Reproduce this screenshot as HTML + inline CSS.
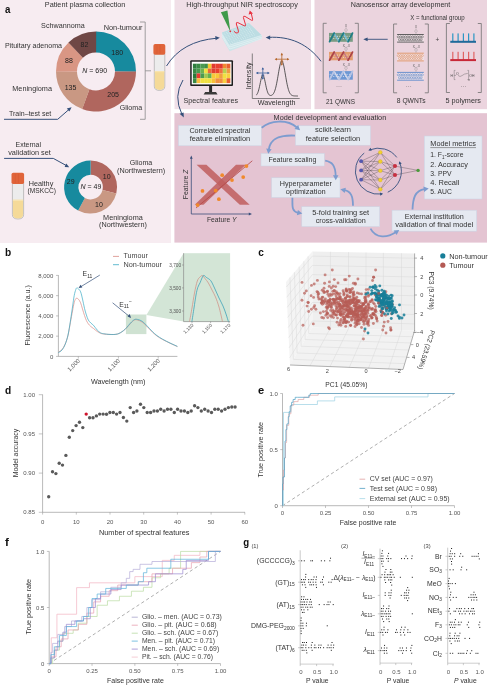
<!DOCTYPE html>
<html><head><meta charset="utf-8"><title>Figure</title>
<style>html,body{margin:0;padding:0;background:#fff;} svg{display:block;} text{font-family:"Liberation Sans", "DejaVu Sans", sans-serif;}</style>
</head><body>
<svg width="488" height="685" viewBox="0 0 488 685">
<rect width="488" height="685" fill="#fff"/>
<rect x="0" y="0" width="171" height="243" fill="#f7ecf1"/>
<rect x="174.5" y="0" width="136.5" height="109.2" fill="#f0dfe7"/>
<rect x="314.5" y="0" width="172.5" height="109.2" fill="#ebd4de"/>
<rect x="174.4" y="113.2" width="312.6" height="129.4" fill="#e4c4d2"/>
<text x="4.9" y="13.1" font-size="10.2" fill="#111" text-anchor="start" font-weight="bold" textLength="5.4" lengthAdjust="spacingAndGlyphs">a</text>
<text x="44.8" y="7.4" font-size="7" fill="#333" text-anchor="start" textLength="80.6" lengthAdjust="spacingAndGlyphs">Patient plasma collection</text>
<path d="M96.00,31.50 A40,40 0 0 1 136.00,71.71 L115.00,71.60 A19,19 0 0 0 96.00,52.50 Z" fill="#178a9e"/>
<path d="M136.00,71.50 A40,40 0 0 1 82.12,109.02 L89.41,89.32 A19,19 0 0 0 115.00,71.50 Z" fill="#b0665e"/>
<path d="M82.32,109.09 A40,40 0 0 1 56.00,71.29 L77.00,71.40 A19,19 0 0 0 89.50,89.35 Z" fill="#c99883"/>
<path d="M56.00,71.50 A40,40 0 0 1 68.57,42.39 L82.97,57.67 A19,19 0 0 0 77.00,71.50 Z" fill="#d99684"/>
<path d="M68.42,42.53 A40,40 0 0 1 96.21,31.50 L96.10,52.50 A19,19 0 0 0 82.90,57.74 Z" fill="#6f4745"/>
<text x="84.4" y="46.6" font-size="7" fill="#222" text-anchor="middle">82</text>
<text x="117.2" y="55" font-size="7" fill="#222" text-anchor="middle">180</text>
<text x="68.9" y="62.6" font-size="7" fill="#222" text-anchor="middle">88</text>
<text x="70.5" y="89.8" font-size="7" fill="#222" text-anchor="middle">135</text>
<text x="113.1" y="96.8" font-size="7" fill="#222" text-anchor="middle">205</text>
<text x="94.7" y="72.8" font-size="7" fill="#222" text-anchor="middle"><tspan font-style="italic">N</tspan> = 690</text>
<text x="41.1" y="27.9" font-size="7" fill="#333" text-anchor="start" textLength="43.6" lengthAdjust="spacingAndGlyphs">Schwannoma</text>
<text x="103.7" y="30.2" font-size="7" fill="#333" text-anchor="start" textLength="38.9" lengthAdjust="spacingAndGlyphs">Non-tumour</text>
<text x="4.9" y="47.5" font-size="7" fill="#333" text-anchor="start" textLength="57.1" lengthAdjust="spacingAndGlyphs">Pituitary adenoma</text>
<text x="12.3" y="91.1" font-size="7" fill="#333" text-anchor="start" textLength="39.7" lengthAdjust="spacingAndGlyphs">Meningioma</text>
<text x="119.7" y="110.2" font-size="7" fill="#333" text-anchor="start" textLength="22.5" lengthAdjust="spacingAndGlyphs">Glioma</text>
<text x="9" y="115.7" font-size="7" fill="#333" text-anchor="start" textLength="42.3" lengthAdjust="spacingAndGlyphs">Train–test set</text>
<path d="M4,119.3 L57.7,119.3 L69.5,109" fill="none" stroke="#35507a" stroke-width="1.0"/>
<path d="M71.6,107.2 L66.8,108.6 L69.4,111.4 Z" fill="#35507a"/>
<path d="M140,22 L145.2,22 L145.2,119.3 L140,119.3 M145.2,70.8 L151,70.8" fill="none" stroke="#8c8c8c" stroke-width="0.8"/>
<path d="M154.3,53.7 L154.3,86.2 Q154.3,90.4 159.55,90.4 Q164.8,90.4 164.8,86.2 L164.8,53.7 Z" fill="#ececec" stroke="#aaaaaa" stroke-width="0.7"/>
<path d="M154.8,71 L154.8,86.10000000000001 Q154.8,89.9 159.55,89.9 Q164.3,89.9 164.3,86.10000000000001 L164.3,71 Z" fill="#f5da98"/>
<rect x="154.8" y="71" width="9.5" height="1.2" fill="#f8e4b0"/>
<rect x="153.4" y="44" width="11.900000000000006" height="10.700000000000003" rx="1.8" fill="#e0643a"/>
<path d="M156.97,45 L156.97,53.7 M159.94500000000002,45 L159.94500000000002,53.7" stroke="#d65a32" stroke-width="0.6"/>
<text x="15.6" y="147.4" font-size="7" fill="#333" text-anchor="start" textLength="25.4" lengthAdjust="spacingAndGlyphs">External</text>
<text x="8.2" y="155.1" font-size="7" fill="#333" text-anchor="start" textLength="42.6" lengthAdjust="spacingAndGlyphs">validation set</text>
<path d="M4.1,158.4 L53.3,158.4 L66.8,165.8" fill="none" stroke="#35507a" stroke-width="1.0"/>
<path d="M69.2,167.2 L64.6,166.9 L66.3,163.6 Z" fill="#35507a"/>
<path d="M12.4,183 L12.4,214.52 Q12.4,219 18.0,219 Q23.6,219 23.6,214.52 L23.6,183 Z" fill="#ececec" stroke="#aaaaaa" stroke-width="0.7"/>
<path d="M12.9,199.8 L12.9,214.42 Q12.9,218.5 18.0,218.5 Q23.1,218.5 23.1,214.42 L23.1,199.8 Z" fill="#f5da98"/>
<rect x="12.9" y="199.8" width="10.200000000000001" height="1.2" fill="#f8e4b0"/>
<rect x="11.5" y="172.8" width="12.600000000000001" height="11.199999999999989" rx="1.8" fill="#e0643a"/>
<path d="M15.280000000000001,173.8 L15.280000000000001,183 M18.43,173.8 L18.43,183" stroke="#d65a32" stroke-width="0.6"/>
<text x="28.7" y="185.6" font-size="7" fill="#333" text-anchor="start" textLength="24.6" lengthAdjust="spacingAndGlyphs">Healthy</text>
<text x="27.5" y="193.3" font-size="7" fill="#333" text-anchor="start" textLength="28.5" lengthAdjust="spacingAndGlyphs">(MSKCC)</text>
<path d="M90.60,160.60 A26.5,26.5 0 0 1 116.31,193.51 L102.53,190.08 A12.3,12.3 0 0 0 90.60,174.80 Z" fill="#b0665e"/>
<path d="M116.31,193.51 A26.5,26.5 0 0 1 78.16,210.50 L84.83,197.96 A12.3,12.3 0 0 0 102.53,190.08 Z" fill="#c99883"/>
<path d="M78.16,210.50 A26.5,26.5 0 0 1 90.60,160.60 L90.60,174.80 A12.3,12.3 0 0 0 84.83,197.96 Z" fill="#178a9e"/>
<text x="70.7" y="184.3" font-size="7" fill="#222" text-anchor="middle">29</text>
<text x="106.7" y="178.9" font-size="7" fill="#222" text-anchor="middle">10</text>
<text x="98.9" y="207.2" font-size="7" fill="#222" text-anchor="middle">10</text>
<text x="90.9" y="189.2" font-size="7" fill="#222" text-anchor="middle"><tspan font-style="italic">N</tspan> = 49</text>
<text x="129.8" y="164.8" font-size="7" fill="#333" text-anchor="start" textLength="22.5" lengthAdjust="spacingAndGlyphs">Glioma</text>
<text x="117" y="172.7" font-size="7" fill="#333" text-anchor="start" textLength="48.1" lengthAdjust="spacingAndGlyphs">(Northwestern)</text>
<text x="103.1" y="219.8" font-size="7" fill="#333" text-anchor="start" textLength="39.7" lengthAdjust="spacingAndGlyphs">Meningioma</text>
<text x="99" y="227.1" font-size="7" fill="#333" text-anchor="start" textLength="48" lengthAdjust="spacingAndGlyphs">(Northwestern)</text>
<text x="186.3" y="7.4" font-size="7" fill="#333" text-anchor="start" textLength="111.5" lengthAdjust="spacingAndGlyphs">High-throughput NIR spectroscopy</text>
<path d="M166.5,66 Q182,41 217,38.2" fill="none" stroke="#35507a" stroke-width="1.0"/>
<path d="M219.8,37.8 L215.2,35.9 L215.6,40.3 Z" fill="#35507a"/>
<path d="M321,61.3 C308,44 290,36 268.5,37.4" fill="none" stroke="#35507a" stroke-width="1.0"/>
<path d="M265.7,37.5 L270.2,35.4 L270.2,39.8 Z" fill="#35507a"/>
<path d="M183,80 Q173,96 182,114.5" fill="none" stroke="#35507a" stroke-width="1.0"/>
<path d="M183.8,117.4 L179.6,113.8 L183.6,112.6 Z" fill="#35507a"/>
<path d="M222,32.6 L248.8,23 L261.8,35.4 L261.8,38.8 L229.7,51.2 L222,38 Z" fill="#cde6ea"/>
<path d="M222,32.6 L248.8,23 L261.8,35.4 L229.7,45 Z" fill="#bcdde3"/>
<g fill="#e6f3f5"><circle cx="224.15" cy="33.09" r="0.42"/><circle cx="225.07" cy="34.57" r="0.42"/><circle cx="225.99" cy="36.04" r="0.42"/><circle cx="226.90" cy="37.52" r="0.42"/><circle cx="227.82" cy="39.00" r="0.42"/><circle cx="228.74" cy="40.47" r="0.42"/><circle cx="229.65" cy="41.95" r="0.42"/><circle cx="230.57" cy="43.42" r="0.42"/><circle cx="226.32" cy="32.32" r="0.42"/><circle cx="227.23" cy="33.79" r="0.42"/><circle cx="228.15" cy="35.27" r="0.42"/><circle cx="229.07" cy="36.75" r="0.42"/><circle cx="229.98" cy="38.22" r="0.42"/><circle cx="230.90" cy="39.70" r="0.42"/><circle cx="231.82" cy="41.17" r="0.42"/><circle cx="232.73" cy="42.65" r="0.42"/><circle cx="228.48" cy="31.54" r="0.42"/><circle cx="229.39" cy="33.02" r="0.42"/><circle cx="230.31" cy="34.50" r="0.42"/><circle cx="231.23" cy="35.97" r="0.42"/><circle cx="232.14" cy="37.45" r="0.42"/><circle cx="233.06" cy="38.92" r="0.42"/><circle cx="233.98" cy="40.40" r="0.42"/><circle cx="234.89" cy="41.88" r="0.42"/><circle cx="230.64" cy="30.77" r="0.42"/><circle cx="231.56" cy="32.25" r="0.42"/><circle cx="232.47" cy="33.72" r="0.42"/><circle cx="233.39" cy="35.20" r="0.42"/><circle cx="234.31" cy="36.67" r="0.42"/><circle cx="235.22" cy="38.15" r="0.42"/><circle cx="236.14" cy="39.63" r="0.42"/><circle cx="237.06" cy="41.10" r="0.42"/><circle cx="232.80" cy="29.99" r="0.42"/><circle cx="233.72" cy="31.47" r="0.42"/><circle cx="234.63" cy="32.95" r="0.42"/><circle cx="235.55" cy="34.42" r="0.42"/><circle cx="236.47" cy="35.90" r="0.42"/><circle cx="237.38" cy="37.38" r="0.42"/><circle cx="238.30" cy="38.85" r="0.42"/><circle cx="239.22" cy="40.33" r="0.42"/><circle cx="234.96" cy="29.22" r="0.42"/><circle cx="235.88" cy="30.70" r="0.42"/><circle cx="236.79" cy="32.17" r="0.42"/><circle cx="237.71" cy="33.65" r="0.42"/><circle cx="238.63" cy="35.13" r="0.42"/><circle cx="239.54" cy="36.60" r="0.42"/><circle cx="240.46" cy="38.08" r="0.42"/><circle cx="241.38" cy="39.55" r="0.42"/><circle cx="237.12" cy="28.45" r="0.42"/><circle cx="238.04" cy="29.92" r="0.42"/><circle cx="238.96" cy="31.40" r="0.42"/><circle cx="239.87" cy="32.87" r="0.42"/><circle cx="240.79" cy="34.35" r="0.42"/><circle cx="241.71" cy="35.83" r="0.42"/><circle cx="242.62" cy="37.30" r="0.42"/><circle cx="243.54" cy="38.78" r="0.42"/><circle cx="239.28" cy="27.67" r="0.42"/><circle cx="240.20" cy="29.15" r="0.42"/><circle cx="241.12" cy="30.62" r="0.42"/><circle cx="242.03" cy="32.10" r="0.42"/><circle cx="242.95" cy="33.58" r="0.42"/><circle cx="243.87" cy="35.05" r="0.42"/><circle cx="244.78" cy="36.53" r="0.42"/><circle cx="245.70" cy="38.01" r="0.42"/><circle cx="241.44" cy="26.90" r="0.42"/><circle cx="242.36" cy="28.37" r="0.42"/><circle cx="243.28" cy="29.85" r="0.42"/><circle cx="244.19" cy="31.33" r="0.42"/><circle cx="245.11" cy="32.80" r="0.42"/><circle cx="246.03" cy="34.28" r="0.42"/><circle cx="246.94" cy="35.75" r="0.42"/><circle cx="247.86" cy="37.23" r="0.42"/><circle cx="243.61" cy="26.12" r="0.42"/><circle cx="244.52" cy="27.60" r="0.42"/><circle cx="245.44" cy="29.08" r="0.42"/><circle cx="246.36" cy="30.55" r="0.42"/><circle cx="247.27" cy="32.03" r="0.42"/><circle cx="248.19" cy="33.50" r="0.42"/><circle cx="249.11" cy="34.98" r="0.42"/><circle cx="250.02" cy="36.46" r="0.42"/><circle cx="245.77" cy="25.35" r="0.42"/><circle cx="246.68" cy="26.83" r="0.42"/><circle cx="247.60" cy="28.30" r="0.42"/><circle cx="248.52" cy="29.78" r="0.42"/><circle cx="249.43" cy="31.25" r="0.42"/><circle cx="250.35" cy="32.73" r="0.42"/><circle cx="251.27" cy="34.21" r="0.42"/><circle cx="252.18" cy="35.68" r="0.42"/><circle cx="247.93" cy="24.58" r="0.42"/><circle cx="248.85" cy="26.05" r="0.42"/><circle cx="249.76" cy="27.53" r="0.42"/><circle cx="250.68" cy="29.00" r="0.42"/><circle cx="251.60" cy="30.48" r="0.42"/><circle cx="252.51" cy="31.96" r="0.42"/><circle cx="253.43" cy="33.43" r="0.42"/><circle cx="254.35" cy="34.91" r="0.42"/></g>
<path d="M229.7,45 L261.8,35.4 M229.7,47 L261.8,37.2 M229.7,49 L261.8,38.6 M222,34.5 L229.7,47 M222,36.3 L229.7,49" stroke="#eef7f8" stroke-width="0.5" fill="none"/>
<path d="M220.9,12.3 L227.4,10.4 L230.4,31.8 Z" fill="#3f9a4a"/>
<circle cx="230.3" cy="31.3" r="0.9" fill="#e8303f"/>
<path d="M233.8,31.2 Q236,33.6 237.6,33 Q239,32.4 238.2,30 L236.3,24 Q236,22 237.8,22.6 L244.3,25.8 Q246,26.4 245.5,24.6 L243.4,17.6 Q243.3,15.5 245,16.4 L251.4,20.2 Q253,21 252.6,19.2 L251.3,13.6" fill="none" stroke="#e8303f" stroke-width="1"/>
<path d="M249.8,10.6 L248.6,14.6 L253,13.6 Z" fill="#e8303f"/>
<rect x="190.2" y="60.2" width="42.8" height="25.8" rx="1" fill="#1e1e1e"/>
<rect x="191.7" y="61.7" width="39.8" height="22.7" fill="#ffffff"/>
<rect x="192.90" y="63.70" width="3.79" height="4.90" fill="#2e7d3e"/>
<rect x="196.64" y="63.70" width="3.79" height="4.90" fill="#3a8a45"/>
<rect x="200.38" y="63.70" width="3.79" height="4.90" fill="#4a9a50"/>
<rect x="204.12" y="63.70" width="3.79" height="4.90" fill="#3e8e48"/>
<rect x="207.86" y="63.70" width="3.79" height="4.90" fill="#f5c830"/>
<rect x="211.60" y="63.70" width="3.79" height="4.90" fill="#e03a30"/>
<rect x="215.34" y="63.70" width="3.79" height="4.90" fill="#e84030"/>
<rect x="219.08" y="63.70" width="3.79" height="4.90" fill="#e03830"/>
<rect x="222.82" y="63.70" width="3.79" height="4.90" fill="#f08a30"/>
<rect x="226.56" y="63.70" width="3.79" height="4.90" fill="#e86030"/>
<rect x="192.90" y="68.55" width="3.79" height="4.90" fill="#3a8a45"/>
<rect x="196.64" y="68.55" width="3.79" height="4.90" fill="#4a9a50"/>
<rect x="200.38" y="68.55" width="3.79" height="4.90" fill="#70b050"/>
<rect x="204.12" y="68.55" width="3.79" height="4.90" fill="#f0e040"/>
<rect x="207.86" y="68.55" width="3.79" height="4.90" fill="#e86a3a"/>
<rect x="211.60" y="68.55" width="3.79" height="4.90" fill="#e04030"/>
<rect x="215.34" y="68.55" width="3.79" height="4.90" fill="#e84030"/>
<rect x="219.08" y="68.55" width="3.79" height="4.90" fill="#f07040"/>
<rect x="222.82" y="68.55" width="3.79" height="4.90" fill="#b8d050"/>
<rect x="226.56" y="68.55" width="3.79" height="4.90" fill="#f09a40"/>
<rect x="192.90" y="73.40" width="3.79" height="4.90" fill="#2a7a3a"/>
<rect x="196.64" y="73.40" width="3.79" height="4.90" fill="#e83a30"/>
<rect x="200.38" y="73.40" width="3.79" height="4.90" fill="#4a9a50"/>
<rect x="204.12" y="73.40" width="3.79" height="4.90" fill="#a0c850"/>
<rect x="207.86" y="73.40" width="3.79" height="4.90" fill="#68b050"/>
<rect x="211.60" y="73.40" width="3.79" height="4.90" fill="#f8c838"/>
<rect x="215.34" y="73.40" width="3.79" height="4.90" fill="#f8c838"/>
<rect x="219.08" y="73.40" width="3.79" height="4.90" fill="#f0a040"/>
<rect x="222.82" y="73.40" width="3.79" height="4.90" fill="#f0e040"/>
<rect x="226.56" y="73.40" width="3.79" height="4.90" fill="#f8d040"/>
<rect x="192.90" y="78.25" width="3.79" height="4.90" fill="#3a8a45"/>
<rect x="196.64" y="78.25" width="3.79" height="4.90" fill="#f8c040"/>
<rect x="200.38" y="78.25" width="3.79" height="4.90" fill="#f0e040"/>
<rect x="204.12" y="78.25" width="3.79" height="4.90" fill="#f0e040"/>
<rect x="207.86" y="78.25" width="3.79" height="4.90" fill="#f0e040"/>
<rect x="211.60" y="78.25" width="3.79" height="4.90" fill="#f8c038"/>
<rect x="215.34" y="78.25" width="3.79" height="4.90" fill="#f09040"/>
<rect x="219.08" y="78.25" width="3.79" height="4.90" fill="#f09040"/>
<rect x="222.82" y="78.25" width="3.79" height="4.90" fill="#f8d040"/>
<rect x="226.56" y="78.25" width="3.79" height="4.90" fill="#e86030"/>
<rect x="209.1" y="86" width="3" height="6" fill="#2a2a2a"/>
<path d="M205.2,92 L216,92 L217.6,94.6 L203.6,94.6 Z" fill="#3a3a3a"/>
<text x="183.5" y="102.8" font-size="7" fill="#333" text-anchor="start" textLength="54.5" lengthAdjust="spacingAndGlyphs">Spectral features</text>
<path d="M252.3,53.5 L252.3,98.5 L299.7,98.5" fill="none" stroke="#555" stroke-width="0.7"/>
<text transform="translate(250.6,89.2) rotate(-90)" font-size="7" fill="#333" textLength="26.9" lengthAdjust="spacingAndGlyphs">Intensity</text>
<text x="257.7" y="105.4" font-size="7" fill="#333" text-anchor="start" textLength="37.7" lengthAdjust="spacingAndGlyphs">Wavelength</text>
<polyline points="256.20,95.16 256.62,94.76 257.04,94.20 257.45,93.46 257.87,92.52 258.29,91.34 258.71,89.91 259.13,88.26 259.54,86.41 259.96,84.43 260.38,82.38 260.80,80.39 261.22,78.56 261.63,77.01 262.05,75.85 262.47,75.17 262.89,75.01 263.31,75.39 263.72,76.29 264.14,77.62 264.56,79.30 264.98,81.21 265.40,83.24 265.81,85.27 266.23,87.21 266.65,88.98 267.07,90.53 267.49,91.85 267.90,92.92 268.32,93.77 268.74,94.41 269.16,94.87 269.58,95.19 269.99,95.38 270.41,95.48 270.83,95.48 271.25,95.42 271.67,95.27 272.08,95.05 272.50,94.73 272.92,94.32 273.34,93.78 273.76,93.11 274.17,92.29 274.59,91.28 275.01,90.09 275.43,88.69 275.85,87.09 276.26,85.27 276.68,83.26 277.10,81.07 277.52,78.75 277.94,76.33 278.35,73.86 278.77,71.43 279.19,69.09 279.61,66.92 280.03,65.00 280.44,63.40 280.86,62.17 281.28,61.36 281.70,61.01 282.12,61.13 282.53,61.72 282.95,62.75 283.37,64.18 283.79,65.95 284.21,68.01 284.62,70.27 285.04,72.67 285.46,75.13 285.88,77.57 286.30,79.95 286.71,82.21 287.13,84.31 287.55,86.23 287.97,87.93 288.39,89.43 288.80,90.73 289.22,91.82 289.64,92.73 290.06,93.48 290.48,94.08 290.89,94.56 291.31,94.93 291.73,95.22 292.15,95.44 292.57,95.60 292.98,95.72 293.40,95.81 293.82,95.87 294.24,95.91 294.66,95.94 295.07,95.96 295.49,95.97 295.91,95.98 296.33,95.99 296.75,95.99 297.16,96.00 297.58,96.00 298.00,96.00" fill="none" stroke="#333" stroke-width="0.8"/>
<path d="M256.8,73 L268.8,73 M262.8,68 L262.8,79" stroke="#3b5f9a" stroke-width="0.8"/>
<path d="M255.8,73 L258.2,71.8 L258.2,74.2 Z M269.8,73 L267.4,71.8 L267.4,74.2 Z M262.8,67.2 L261.6,69.6 L264,69.6 Z M262.8,79.8 L261.6,77.4 L264,77.4 Z" fill="#3b5f9a"/>
<circle cx="262.8" cy="75.2" r="1.1" fill="none" stroke="#3b5f9a" stroke-width="0.6"/>
<path d="M275.6,59.2 L288.4,59.2 M281.8,53.6 L281.8,65" stroke="#b5652a" stroke-width="0.8"/>
<path d="M274.6,59.2 L277,58 L277,60.4 Z M289.4,59.2 L287,58 L287,60.4 Z M281.8,52.8 L280.6,55.2 L283,55.2 Z M281.8,65.8 L280.6,63.4 L283,63.4 Z" fill="#b5652a"/>
<circle cx="281.8" cy="61.4" r="1.1" fill="none" stroke="#b5652a" stroke-width="0.6"/>
<text x="350.8" y="6.9" font-size="7" fill="#333" text-anchor="start" textLength="99.5" lengthAdjust="spacingAndGlyphs">Nanosensor array development</text>
<text x="410.2" y="19.6" font-size="6.3" fill="#333" text-anchor="start" textLength="54.4" lengthAdjust="spacingAndGlyphs">X = functional group</text>
<path d="M326.7,23.3 L323.2,23.3 L323.2,92.8 L326.7,92.8 M354.8,23.3 L358.3,23.3 L358.3,92.8 L354.8,92.8" fill="none" stroke="#707070" stroke-width="0.8"/>
<path d="M397.1,24 L393.6,24 L393.6,92.8 L397.1,92.8 M424.8,24 L428.3,24 L428.3,92.8 L424.8,92.8" fill="none" stroke="#707070" stroke-width="0.8"/>
<path d="M449.9,23.5 L446.4,23.5 L446.4,92.5 L449.9,92.5 M477.8,23.5 L481.3,23.5 L481.3,92.5 L477.8,92.5" fill="none" stroke="#707070" stroke-width="0.8"/>
<rect x="329" y="32.9" width="23.80000000000001" height="8.899999999999999" fill="#7a9c84"/>
<circle cx="330.20" cy="36.28" r="0.5" fill="#f4f0f0"/>
<circle cx="332.60" cy="36.28" r="0.5" fill="#f4f0f0"/>
<circle cx="335.00" cy="36.28" r="0.5" fill="#f4f0f0"/>
<circle cx="337.40" cy="36.28" r="0.5" fill="#f4f0f0"/>
<circle cx="339.80" cy="36.28" r="0.5" fill="#f4f0f0"/>
<circle cx="342.20" cy="36.28" r="0.5" fill="#f4f0f0"/>
<circle cx="344.60" cy="36.28" r="0.5" fill="#f4f0f0"/>
<circle cx="347.00" cy="36.28" r="0.5" fill="#f4f0f0"/>
<circle cx="349.40" cy="36.28" r="0.5" fill="#f4f0f0"/>
<circle cx="331.40" cy="38.60" r="0.5" fill="#f4f0f0"/>
<circle cx="333.80" cy="38.60" r="0.5" fill="#f4f0f0"/>
<circle cx="336.20" cy="38.60" r="0.5" fill="#f4f0f0"/>
<circle cx="338.60" cy="38.60" r="0.5" fill="#f4f0f0"/>
<circle cx="341.00" cy="38.60" r="0.5" fill="#f4f0f0"/>
<circle cx="343.40" cy="38.60" r="0.5" fill="#f4f0f0"/>
<circle cx="345.80" cy="38.60" r="0.5" fill="#f4f0f0"/>
<circle cx="348.20" cy="38.60" r="0.5" fill="#f4f0f0"/>
<circle cx="350.60" cy="38.60" r="0.5" fill="#f4f0f0"/>
<path d="M334.1,33.1 L338.9,41.599999999999994 M343.5,33.1 L348.1,41.599999999999994" stroke="#78bcd8" stroke-width="1.5" stroke-linecap="round"/>
<path d="M329.6,41.599999999999994 L334.1,33.1 M338.9,41.599999999999994 L343.5,33.1 M348.1,41.599999999999994 L352.5,33.1" stroke="#1f7e86" stroke-width="1.8" stroke-linecap="round"/>
<rect x="329" y="51.9" width="23.80000000000001" height="8.399999999999999" fill="#e39c6e"/>
<circle cx="330.20" cy="55.09" r="0.5" fill="#f4f0f0"/>
<circle cx="332.60" cy="55.09" r="0.5" fill="#f4f0f0"/>
<circle cx="335.00" cy="55.09" r="0.5" fill="#f4f0f0"/>
<circle cx="337.40" cy="55.09" r="0.5" fill="#f4f0f0"/>
<circle cx="339.80" cy="55.09" r="0.5" fill="#f4f0f0"/>
<circle cx="342.20" cy="55.09" r="0.5" fill="#f4f0f0"/>
<circle cx="344.60" cy="55.09" r="0.5" fill="#f4f0f0"/>
<circle cx="347.00" cy="55.09" r="0.5" fill="#f4f0f0"/>
<circle cx="349.40" cy="55.09" r="0.5" fill="#f4f0f0"/>
<circle cx="331.40" cy="57.28" r="0.5" fill="#f4f0f0"/>
<circle cx="333.80" cy="57.28" r="0.5" fill="#f4f0f0"/>
<circle cx="336.20" cy="57.28" r="0.5" fill="#f4f0f0"/>
<circle cx="338.60" cy="57.28" r="0.5" fill="#f4f0f0"/>
<circle cx="341.00" cy="57.28" r="0.5" fill="#f4f0f0"/>
<circle cx="343.40" cy="57.28" r="0.5" fill="#f4f0f0"/>
<circle cx="345.80" cy="57.28" r="0.5" fill="#f4f0f0"/>
<circle cx="348.20" cy="57.28" r="0.5" fill="#f4f0f0"/>
<circle cx="350.60" cy="57.28" r="0.5" fill="#f4f0f0"/>
<path d="M334.1,52.1 L338.9,60.099999999999994 M343.5,52.1 L348.1,60.099999999999994" stroke="#c87a80" stroke-width="1.5" stroke-linecap="round"/>
<path d="M329.6,60.099999999999994 L334.1,52.1 M338.9,60.099999999999994 L343.5,52.1 M348.1,60.099999999999994 L352.5,52.1" stroke="#ac4448" stroke-width="1.8" stroke-linecap="round"/>
<rect x="329" y="71.1" width="23.80000000000001" height="8.600000000000009" fill="#6e98d4"/>
<circle cx="330.20" cy="74.37" r="0.5" fill="#f4f0f0"/>
<circle cx="332.60" cy="74.37" r="0.5" fill="#f4f0f0"/>
<circle cx="335.00" cy="74.37" r="0.5" fill="#f4f0f0"/>
<circle cx="337.40" cy="74.37" r="0.5" fill="#f4f0f0"/>
<circle cx="339.80" cy="74.37" r="0.5" fill="#f4f0f0"/>
<circle cx="342.20" cy="74.37" r="0.5" fill="#f4f0f0"/>
<circle cx="344.60" cy="74.37" r="0.5" fill="#f4f0f0"/>
<circle cx="347.00" cy="74.37" r="0.5" fill="#f4f0f0"/>
<circle cx="349.40" cy="74.37" r="0.5" fill="#f4f0f0"/>
<circle cx="331.40" cy="76.60" r="0.5" fill="#f4f0f0"/>
<circle cx="333.80" cy="76.60" r="0.5" fill="#f4f0f0"/>
<circle cx="336.20" cy="76.60" r="0.5" fill="#f4f0f0"/>
<circle cx="338.60" cy="76.60" r="0.5" fill="#f4f0f0"/>
<circle cx="341.00" cy="76.60" r="0.5" fill="#f4f0f0"/>
<circle cx="343.40" cy="76.60" r="0.5" fill="#f4f0f0"/>
<circle cx="345.80" cy="76.60" r="0.5" fill="#f4f0f0"/>
<circle cx="348.20" cy="76.60" r="0.5" fill="#f4f0f0"/>
<circle cx="350.60" cy="76.60" r="0.5" fill="#f4f0f0"/>
<path d="M334.1,71.3 L338.9,79.5 M343.5,71.3 L348.1,79.5" stroke="#d4d8ec" stroke-width="1.5" stroke-linecap="round"/>
<path d="M329.6,79.5 L334.1,71.3 M338.9,79.5 L343.5,71.3 M348.1,79.5 L352.5,71.3" stroke="#b8c4e4" stroke-width="1.8" stroke-linecap="round"/>
<path d="M346,32.9 L346,31.4 M344.8,30.7 L346,31.4 L347.2,30.7 M344.8,30.7 L344.8,29.299999999999997 L346,28.599999999999998 L347.2,29.299999999999997 L347.2,30.7" fill="none" stroke="#8a8a8a" stroke-width="0.35"/>
<path d="M346,28.599999999999998 L346,27.099999999999998" stroke="#8a8a8a" stroke-width="0.35"/>
<text x="345.1" y="26.799999999999997" font-size="3" fill="#555" text-anchor="start">X</text>
<path d="M346,51.9 L346,50.4 M344.8,49.699999999999996 L346,50.4 L347.2,49.699999999999996 M344.8,49.699999999999996 L344.8,48.3 L346,47.6 L347.2,48.3 L347.2,49.699999999999996" fill="none" stroke="#8a8a8a" stroke-width="0.35"/>
<path d="M346,47.6 L344,46.4 M346,47.6 L348,46.4" stroke="#8a8a8a" stroke-width="0.35"/>
<text x="342.7" y="46.699999999999996" font-size="3" fill="#555" text-anchor="start">X</text>
<text x="348.1" y="46.699999999999996" font-size="3" fill="#555" text-anchor="start">X</text>
<path d="M346,71.1 L346,69.6 M344.8,68.89999999999999 L346,69.6 L347.2,68.89999999999999 M344.8,68.89999999999999 L344.8,67.5 L346,66.8 L347.2,67.5 L347.2,68.89999999999999" fill="none" stroke="#8a8a8a" stroke-width="0.35"/>
<path d="M346,66.8 L344,65.6 M346,66.8 L348,65.6" stroke="#8a8a8a" stroke-width="0.35"/>
<text x="342.7" y="65.89999999999999" font-size="3" fill="#555" text-anchor="start">X</text>
<text x="348.1" y="65.89999999999999" font-size="3" fill="#555" text-anchor="start">X</text>
<text x="339" y="88" font-size="6" fill="#444" text-anchor="middle">···</text>
<rect x="397.1" y="34.1" width="26.69999999999999" height="8.399999999999999" fill="#f3ecef" fill-opacity="0.55"/>
<g fill="none" stroke="#505050" stroke-width="0.55"><circle cx="398.30" cy="36.87" r="1.05"/><circle cx="400.70" cy="36.87" r="1.05"/><circle cx="403.10" cy="36.87" r="1.05"/><circle cx="405.50" cy="36.87" r="1.05"/><circle cx="407.90" cy="36.87" r="1.05"/><circle cx="410.30" cy="36.87" r="1.05"/><circle cx="412.70" cy="36.87" r="1.05"/><circle cx="415.10" cy="36.87" r="1.05"/><circle cx="417.50" cy="36.87" r="1.05"/><circle cx="419.90" cy="36.87" r="1.05"/><circle cx="422.30" cy="36.87" r="1.05"/><circle cx="399.50" cy="39.73" r="1.05"/><circle cx="401.90" cy="39.73" r="1.05"/><circle cx="404.30" cy="39.73" r="1.05"/><circle cx="406.70" cy="39.73" r="1.05"/><circle cx="409.10" cy="39.73" r="1.05"/><circle cx="411.50" cy="39.73" r="1.05"/><circle cx="413.90" cy="39.73" r="1.05"/><circle cx="416.30" cy="39.73" r="1.05"/><circle cx="418.70" cy="39.73" r="1.05"/><circle cx="421.10" cy="39.73" r="1.05"/></g>
<path d="M397.1,34.5 L423.8,34.5 M397.1,42.1 L423.8,42.1" stroke="#505050" stroke-width="0.9"/>
<rect x="397.1" y="52.8" width="26.69999999999999" height="8.5" fill="#f3ecef" fill-opacity="0.55"/>
<g fill="none" stroke="#de8c5c" stroke-width="0.55"><circle cx="398.30" cy="55.60" r="1.05"/><circle cx="400.70" cy="55.60" r="1.05"/><circle cx="403.10" cy="55.60" r="1.05"/><circle cx="405.50" cy="55.60" r="1.05"/><circle cx="407.90" cy="55.60" r="1.05"/><circle cx="410.30" cy="55.60" r="1.05"/><circle cx="412.70" cy="55.60" r="1.05"/><circle cx="415.10" cy="55.60" r="1.05"/><circle cx="417.50" cy="55.60" r="1.05"/><circle cx="419.90" cy="55.60" r="1.05"/><circle cx="422.30" cy="55.60" r="1.05"/><circle cx="399.50" cy="58.49" r="1.05"/><circle cx="401.90" cy="58.49" r="1.05"/><circle cx="404.30" cy="58.49" r="1.05"/><circle cx="406.70" cy="58.49" r="1.05"/><circle cx="409.10" cy="58.49" r="1.05"/><circle cx="411.50" cy="58.49" r="1.05"/><circle cx="413.90" cy="58.49" r="1.05"/><circle cx="416.30" cy="58.49" r="1.05"/><circle cx="418.70" cy="58.49" r="1.05"/><circle cx="421.10" cy="58.49" r="1.05"/></g>
<path d="M397.1,53.199999999999996 L423.8,53.199999999999996 M397.1,60.9 L423.8,60.9" stroke="#de8c5c" stroke-width="0.9"/>
<rect x="397.1" y="72" width="26.69999999999999" height="8.599999999999994" fill="#f3ecef" fill-opacity="0.55"/>
<g fill="none" stroke="#5a86c8" stroke-width="0.55"><circle cx="398.30" cy="74.84" r="1.05"/><circle cx="400.70" cy="74.84" r="1.05"/><circle cx="403.10" cy="74.84" r="1.05"/><circle cx="405.50" cy="74.84" r="1.05"/><circle cx="407.90" cy="74.84" r="1.05"/><circle cx="410.30" cy="74.84" r="1.05"/><circle cx="412.70" cy="74.84" r="1.05"/><circle cx="415.10" cy="74.84" r="1.05"/><circle cx="417.50" cy="74.84" r="1.05"/><circle cx="419.90" cy="74.84" r="1.05"/><circle cx="422.30" cy="74.84" r="1.05"/><circle cx="399.50" cy="77.76" r="1.05"/><circle cx="401.90" cy="77.76" r="1.05"/><circle cx="404.30" cy="77.76" r="1.05"/><circle cx="406.70" cy="77.76" r="1.05"/><circle cx="409.10" cy="77.76" r="1.05"/><circle cx="411.50" cy="77.76" r="1.05"/><circle cx="413.90" cy="77.76" r="1.05"/><circle cx="416.30" cy="77.76" r="1.05"/><circle cx="418.70" cy="77.76" r="1.05"/><circle cx="421.10" cy="77.76" r="1.05"/></g>
<path d="M397.1,72.4 L423.8,72.4 M397.1,80.19999999999999 L423.8,80.19999999999999" stroke="#5a86c8" stroke-width="0.9"/>
<path d="M416,34.1 L416,32.6 M414.8,31.900000000000002 L416,32.6 L417.2,31.900000000000002 M414.8,31.900000000000002 L414.8,30.5 L416,29.8 L417.2,30.5 L417.2,31.900000000000002" fill="none" stroke="#8a8a8a" stroke-width="0.35"/>
<path d="M416,29.8 L416,28.3" stroke="#8a8a8a" stroke-width="0.35"/>
<text x="415.1" y="28.0" font-size="3" fill="#555" text-anchor="start">X</text>
<path d="M416,52.8 L416,51.3 M414.8,50.599999999999994 L416,51.3 L417.2,50.599999999999994 M414.8,50.599999999999994 L414.8,49.199999999999996 L416,48.5 L417.2,49.199999999999996 L417.2,50.599999999999994" fill="none" stroke="#8a8a8a" stroke-width="0.35"/>
<path d="M416,48.5 L414,47.3 M416,48.5 L418,47.3" stroke="#8a8a8a" stroke-width="0.35"/>
<text x="412.7" y="47.599999999999994" font-size="3" fill="#555" text-anchor="start">X</text>
<text x="418.1" y="47.599999999999994" font-size="3" fill="#555" text-anchor="start">X</text>
<path d="M416,72 L416,70.5 M414.8,69.8 L416,70.5 L417.2,69.8 M414.8,69.8 L414.8,68.4 L416,67.7 L417.2,68.4 L417.2,69.8" fill="none" stroke="#8a8a8a" stroke-width="0.35"/>
<path d="M416,67.7 L414,66.5 M416,67.7 L418,66.5" stroke="#8a8a8a" stroke-width="0.35"/>
<text x="412.7" y="66.8" font-size="3" fill="#555" text-anchor="start">X</text>
<text x="418.1" y="66.8" font-size="3" fill="#555" text-anchor="start">X</text>
<text x="408.8" y="88.3" font-size="6" fill="#444" text-anchor="middle">···</text>
<path d="M387.7,39.3 L366,39.3" stroke="#35507a" stroke-width="0.9"/>
<path d="M363.3,39.3 L367.6,37.4 L367.6,41.2 Z" fill="#35507a"/>
<text x="437.3" y="42.2" font-size="6.5" fill="#444" text-anchor="middle">+</text>
<rect x="452.2" y="33.4" width="1.2" height="7.899999999999999" fill="#2a96c4"/>
<rect x="457.5" y="33.4" width="1.2" height="7.899999999999999" fill="#2a96c4"/>
<rect x="462.79999999999995" y="33.4" width="1.2" height="7.899999999999999" fill="#2a96c4"/>
<rect x="468.0" y="33.4" width="1.2" height="7.899999999999999" fill="#2a96c4"/>
<rect x="473.29999999999995" y="33.4" width="1.2" height="7.899999999999999" fill="#2a96c4"/>
<rect x="450.3" y="40.8" width="25.7" height="2" fill="#1f6a9a"/>
<rect x="452.2" y="51.8" width="1.2" height="7.800000000000004" fill="#e06464"/>
<rect x="457.5" y="51.8" width="1.2" height="7.800000000000004" fill="#e06464"/>
<rect x="462.79999999999995" y="51.8" width="1.2" height="7.800000000000004" fill="#e06464"/>
<rect x="468.0" y="51.8" width="1.2" height="7.800000000000004" fill="#e06464"/>
<rect x="473.29999999999995" y="51.8" width="1.2" height="7.800000000000004" fill="#e06464"/>
<rect x="450.3" y="59.1" width="25.7" height="2" fill="#c82838"/>
<path d="M455.4,70.4 L454.2,70.4 L454.2,79.6 L455.4,79.6 M467.4,70.4 L468.6,70.4 L468.6,79.6 L467.4,79.6 M458,75.4 Q460,77.5 462,75.6 Q464,73.7 467.8,73.4 M454.2,75.4 L456,75.4" fill="none" stroke="#555" stroke-width="0.4"/>
<text x="450.6" y="77.2" font-size="3.4" fill="#444" text-anchor="start">H</text>
<text x="455.9" y="74.6" font-size="3.4" fill="#444" text-anchor="start">O</text>
<text x="469.3" y="77.2" font-size="3.4" fill="#444" text-anchor="start">OH</text>
<text x="468.4" y="81.2" font-size="2.8" fill="#444" text-anchor="start">n</text>
<text x="463.4" y="87.8" font-size="6" fill="#444" text-anchor="middle">···</text>
<text x="326" y="103.7" font-size="7" fill="#333" text-anchor="start" textLength="29" lengthAdjust="spacingAndGlyphs">21 QWNS</text>
<text x="396.8" y="103.2" font-size="7" fill="#333" text-anchor="start" textLength="28.7" lengthAdjust="spacingAndGlyphs">8 QWNTs</text>
<text x="445.5" y="103.2" font-size="7" fill="#333" text-anchor="start" textLength="35.5" lengthAdjust="spacingAndGlyphs">5 polymers</text>
<text x="273.6" y="120.4" font-size="7" fill="#333" text-anchor="start" textLength="112.6" lengthAdjust="spacingAndGlyphs">Model development and evaluation</text>
<rect x="178.5" y="125.5" width="82.80000000000001" height="20.30000000000001" fill="#e5e9f1" stroke="#c9d3e4" stroke-width="0.5"/>
<text x="219.9" y="133" font-size="7" fill="#333" text-anchor="middle" textLength="61" lengthAdjust="spacingAndGlyphs">Correlated spectral</text>
<text x="219.9" y="141.1" font-size="7" fill="#333" text-anchor="middle" textLength="60.5" lengthAdjust="spacingAndGlyphs">feature elimination</text>
<rect x="295.5" y="125.8" width="75.0" height="19.39999999999999" fill="#e5e9f1" stroke="#c9d3e4" stroke-width="0.5"/>
<text x="333" y="132.1" font-size="7" fill="#333" text-anchor="middle" textLength="36" lengthAdjust="spacingAndGlyphs">scikit-learn</text>
<text x="333" y="140.7" font-size="7" fill="#333" text-anchor="middle" textLength="54.5" lengthAdjust="spacingAndGlyphs">feature selection</text>
<rect x="261" y="153.4" width="63.30000000000001" height="12.599999999999994" fill="#e5e9f1" stroke="#c9d3e4" stroke-width="0.5"/>
<text x="268.4" y="161.6" font-size="7" fill="#333" text-anchor="start" textLength="48" lengthAdjust="spacingAndGlyphs">Feature scaling</text>
<rect x="271.6" y="177.8" width="68.39999999999998" height="19.69999999999999" fill="#e5e9f1" stroke="#c9d3e4" stroke-width="0.5"/>
<text x="305.8" y="185.8" font-size="7" fill="#333" text-anchor="middle" textLength="52" lengthAdjust="spacingAndGlyphs">Hyperparameter</text>
<text x="305.8" y="193.7" font-size="7" fill="#333" text-anchor="middle" textLength="40" lengthAdjust="spacingAndGlyphs">optimization</text>
<rect x="301.8" y="206.7" width="77.89999999999998" height="19.900000000000006" fill="#e5e9f1" stroke="#c9d3e4" stroke-width="0.5"/>
<text x="340.7" y="214.6" font-size="7" fill="#333" text-anchor="middle" textLength="57" lengthAdjust="spacingAndGlyphs">5-fold training set</text>
<text x="340.7" y="222.7" font-size="7" fill="#333" text-anchor="middle" textLength="50" lengthAdjust="spacingAndGlyphs">cross-validation</text>
<rect x="392" y="210.2" width="84.69999999999999" height="21.0" fill="#e5e9f1" stroke="#c9d3e4" stroke-width="0.5"/>
<text x="434.3" y="218.6" font-size="7" fill="#333" text-anchor="middle" textLength="59" lengthAdjust="spacingAndGlyphs">External institution</text>
<text x="434.3" y="226.5" font-size="7" fill="#333" text-anchor="middle" textLength="78" lengthAdjust="spacingAndGlyphs">validation of final model</text>
<rect x="424.3" y="136" width="57.69999999999999" height="63" fill="#e5e9f1" stroke="#c9d3e4" stroke-width="0.5"/>
<text x="430.3" y="145.5" font-size="7" fill="#333" text-anchor="start" textLength="45.5" lengthAdjust="spacingAndGlyphs">Model metrics</text>
<path d="M430.3,147.6 L476,147.6" stroke="#444" stroke-width="0.5"/>
<text x="430.3" y="157.3" font-size="6.8" fill="#333">1. F<tspan font-size="4.5" dy="1.5">1</tspan><tspan dy="-1.5">-score</tspan></text>
<text x="430.3" y="167" font-size="6.8" fill="#333" text-anchor="start" textLength="37.5" lengthAdjust="spacingAndGlyphs">2. Accuracy</text>
<text x="430.3" y="175.6" font-size="6.8" fill="#333" text-anchor="start" textLength="21.3" lengthAdjust="spacingAndGlyphs">3. PPV</text>
<text x="430.3" y="184.8" font-size="6.8" fill="#333" text-anchor="start" textLength="29" lengthAdjust="spacingAndGlyphs">4. Recall</text>
<text x="430.3" y="193.6" font-size="6.8" fill="#333" text-anchor="start" textLength="21.5" lengthAdjust="spacingAndGlyphs">5. AUC</text>
<path d="M261.7,127.7 C270,120.5 286.75,118.51 296.95,127.52" fill="none" stroke="#7d9ccf" stroke-width="1.8"/>
<path d="M300.1,130.3 L294.53,129.05 L298.17,124.93 Z" fill="#7d9ccf"/>
<path d="M295,135.6 C282,135 270.37,137.02 268.81,149.63" fill="none" stroke="#7d9ccf" stroke-width="1.8"/>
<path d="M268.3,153.8 L266.18,148.50 L271.64,149.17 Z" fill="#7d9ccf"/>
<path d="M325.2,160.7 C332,162 335.43,165.00 335.70,176.10" fill="none" stroke="#7d9ccf" stroke-width="1.8"/>
<path d="M335.8,180.3 L332.93,175.37 L338.43,175.23 Z" fill="#7d9ccf"/>
<path d="M353,205.7 C353,196 350.93,191.65 344.50,190.22" fill="none" stroke="#7d9ccf" stroke-width="1.8"/>
<path d="M340.4,189.3 L345.88,187.71 L344.68,193.08 Z" fill="#7d9ccf"/>
<path d="M292.4,197.8 C292.6,205 291.05,211.43 298.18,212.80" fill="none" stroke="#7d9ccf" stroke-width="1.8"/>
<path d="M302.3,213.6 L296.87,215.35 L297.91,209.95 Z" fill="#7d9ccf"/>
<path d="M370.5,228.6 C376,239 387.48,237.63 395.77,232.28" fill="none" stroke="#7d9ccf" stroke-width="1.8"/>
<path d="M399.3,230 L396.59,235.02 L393.61,230.40 Z" fill="#7d9ccf"/>
<path d="M412.5,209.5 C413,198 415.03,190.42 424.54,189.08" fill="none" stroke="#7d9ccf" stroke-width="1.8"/>
<path d="M428.7,188.5 L424.13,191.92 L423.37,186.47 Z" fill="#7d9ccf"/>
<path d="M191.3,157.5 L191.3,214 L250,214" fill="none" stroke="#3a4f7a" stroke-width="0.8"/>
<path d="M191.3,155.6 L189.9,158.8 L192.7,158.8 Z M252,214 L248.8,212.6 L248.8,215.4 Z" fill="#3a4f7a"/>
<path d="M196.6,164.8 L206.4,164.8 L249.7,204.7 L239.8,204.7 Z" fill="#c05e5e" fill-opacity="0.85"/>
<path d="M236,164.8 L245.8,164.8 L203.5,204.7 L194.7,204.7 Z" fill="#c05e5e" fill-opacity="0.85"/>
<path d="M196,208 L252.3,160.8" stroke="#b34848" stroke-width="0.8"/>
<circle cx="222.2" cy="175.2" r="1.9" fill="#f0892c"/>
<circle cx="232" cy="180.1" r="1.9" fill="#f0892c"/>
<circle cx="243.2" cy="177.1" r="1.9" fill="#f0892c"/>
<circle cx="246.4" cy="166.1" r="1.9" fill="#f0892c"/>
<circle cx="202.5" cy="190.9" r="1.9" fill="#f0892c"/>
<circle cx="215.7" cy="190.7" r="1.9" fill="#f0892c"/>
<circle cx="218.9" cy="199.2" r="1.9" fill="#f0892c"/>
<circle cx="197.6" cy="205.1" r="1.9" fill="#f0892c"/>
<text transform="translate(187.8,199.2) rotate(-90)" font-size="7" fill="#333" textLength="29.5" lengthAdjust="spacingAndGlyphs">Feature <tspan font-style="italic">Z</tspan></text>
<text x="207" y="221.8" font-size="7" fill="#333" textLength="29.6" lengthAdjust="spacingAndGlyphs">Feature <tspan font-style="italic">Y</tspan></text>
<path d="M361.1,161.2 L380.3,152.3 M361.1,161.2 L380.3,161.5 M361.1,161.2 L380.3,170.7 M361.1,161.2 L380.3,180 M361.1,161.2 L380.3,189.3 M361.1,170.4 L380.3,152.3 M361.1,170.4 L380.3,161.5 M361.1,170.4 L380.3,170.7 M361.1,170.4 L380.3,180 M361.1,170.4 L380.3,189.3 M361.1,179.7 L380.3,152.3 M361.1,179.7 L380.3,161.5 M361.1,179.7 L380.3,170.7 M361.1,179.7 L380.3,180 M361.1,179.7 L380.3,189.3 M380.3,152.3 L395,166.1 M380.3,152.3 L395,175 M380.3,161.5 L395,166.1 M380.3,161.5 L395,175 M380.3,170.7 L395,166.1 M380.3,170.7 L395,175 M380.3,180 L395,166.1 M380.3,180 L395,175 M380.3,189.3 L395,166.1 M380.3,189.3 L395,175 M395,166.1 L418.1,170.4 M395,175 L418.1,170.4" stroke="#2a2a2a" stroke-width="0.3" fill="none"/>
<path d="M364.24,153.08 A23,23 0 0 0 381.60,193.98" fill="none" stroke="#34507f" stroke-width="0.9"/>
<path d="M383.09,193.77 L380.34,195.77 L379.89,192.60 Z" fill="#34507f"/>
<path d="M396.77,157.36 A23,23 0 0 0 369.78,149.87" fill="none" stroke="#34507f" stroke-width="0.9"/>
<path d="M368.39,150.44 L370.58,147.83 L371.77,150.80 Z" fill="#34507f"/>
<path d="M387.75,192.21 A23,23 0 0 0 399.73,162.58" fill="none" stroke="#34507f" stroke-width="0.9"/>
<path d="M399.16,161.19 L401.77,163.38 L398.80,164.57 Z" fill="#34507f"/>
<circle cx="361.1" cy="161.2" r="1.9" fill="#5558b0"/>
<circle cx="361.1" cy="170.4" r="1.9" fill="#5558b0"/>
<circle cx="361.1" cy="179.7" r="1.9" fill="#5558b0"/>
<circle cx="380.3" cy="152.3" r="1.9" fill="#f2d030" stroke="#c9a820" stroke-width="0.3"/>
<circle cx="380.3" cy="161.5" r="1.9" fill="#f2d030" stroke="#c9a820" stroke-width="0.3"/>
<circle cx="380.3" cy="170.7" r="1.9" fill="#f2d030" stroke="#c9a820" stroke-width="0.3"/>
<circle cx="380.3" cy="180" r="1.9" fill="#f2d030" stroke="#c9a820" stroke-width="0.3"/>
<circle cx="380.3" cy="189.3" r="1.9" fill="#f2d030" stroke="#c9a820" stroke-width="0.3"/>
<circle cx="395" cy="166.1" r="2" fill="#c83040"/>
<circle cx="395" cy="175" r="2" fill="#c83040"/>
<circle cx="418.1" cy="170.4" r="1.7" fill="#4a9a3a"/>
<text x="4.9" y="256.3" font-size="10.2" fill="#111" text-anchor="start" font-weight="bold" textLength="6.2" lengthAdjust="spacingAndGlyphs">b</text>
<path d="M146.4,315 L183.6,253.2 L183.6,321.6 Z" fill="#d3e5d6"/>
<rect x="183.6" y="253.2" width="46.5" height="68.4" fill="#d3e5d6"/>
<rect x="125.9" y="314.5" width="20.5" height="19.6" fill="#cfe2d2"/>
<path d="M58.4,275.2 L58.4,356.4 L177.4,356.4" fill="none" stroke="#888" stroke-width="0.6"/>
<path d="M56,356.40 L58.4,356.40" stroke="#888" stroke-width="0.5"/>
<text x="53.3" y="358.5" font-size="6.0" fill="#555" text-anchor="end">0</text>
<path d="M56,336.15 L58.4,336.15" stroke="#888" stroke-width="0.5"/>
<text x="53.3" y="338.25" font-size="6.0" fill="#555" text-anchor="end">2,000</text>
<path d="M56,315.90 L58.4,315.90" stroke="#888" stroke-width="0.5"/>
<text x="53.3" y="318.0" font-size="6.0" fill="#555" text-anchor="end">4,000</text>
<path d="M56,295.65 L58.4,295.65" stroke="#888" stroke-width="0.5"/>
<text x="53.3" y="297.75" font-size="6.0" fill="#555" text-anchor="end">6,000</text>
<path d="M56,275.40 L58.4,275.40" stroke="#888" stroke-width="0.5"/>
<text x="53.3" y="277.5" font-size="6.0" fill="#555" text-anchor="end">8,000</text>
<path d="M78.3,356.4 L78.3,358.6" stroke="#888" stroke-width="0.5"/>
<text transform="translate(80.3,361.2) rotate(-45)" font-size="5.9" fill="#555" text-anchor="end">1,000</text>
<path d="M118.4,356.4 L118.4,358.6" stroke="#888" stroke-width="0.5"/>
<text transform="translate(120.4,361.2) rotate(-45)" font-size="5.9" fill="#555" text-anchor="end">1,100</text>
<path d="M158.2,356.4 L158.2,358.6" stroke="#888" stroke-width="0.5"/>
<text transform="translate(160.2,361.2) rotate(-45)" font-size="5.9" fill="#555" text-anchor="end">1,200</text>
<text transform="translate(29.6,345.6) rotate(-90)" font-size="6.5" fill="#333" textLength="60.4" lengthAdjust="spacingAndGlyphs">Fluorescence (a.u.)</text>
<text x="91" y="384" font-size="6.8" fill="#333" text-anchor="start" textLength="54.5" lengthAdjust="spacingAndGlyphs">Wavelength (nm)</text>
<path d="M58.40,352.20 C59.00,351.77 60.87,350.97 62.00,349.60 C63.13,348.23 64.20,346.35 65.20,344.00 C66.20,341.65 67.13,339.08 68.00,335.50 C68.87,331.92 69.65,326.58 70.40,322.50 C71.15,318.42 71.87,314.33 72.50,311.00 C73.13,307.67 73.68,304.50 74.20,302.50 C74.72,300.50 75.17,299.72 75.60,299.00 C76.03,298.28 76.32,298.15 76.80,298.20 C77.28,298.25 77.87,298.53 78.50,299.30 C79.13,300.07 79.93,301.18 80.60,302.80 C81.27,304.42 81.85,306.88 82.50,309.00 C83.15,311.12 83.85,313.58 84.50,315.50 C85.15,317.42 85.77,319.12 86.40,320.50 C87.03,321.88 87.57,322.80 88.30,323.80 C89.03,324.80 89.95,325.73 90.80,326.50 C91.65,327.27 92.65,327.82 93.40,328.40 C94.15,328.98 94.65,329.48 95.30,330.00 C95.95,330.52 96.52,331.00 97.30,331.50 C98.08,332.00 99.15,332.62 100.00,333.00 C100.85,333.38 101.07,333.57 102.40,333.80 C103.73,334.03 106.08,334.28 108.00,334.40 C109.92,334.52 112.32,334.57 113.90,334.50 C115.48,334.43 116.43,334.28 117.50,334.00 C118.57,333.72 119.30,333.37 120.30,332.80 C121.30,332.23 122.43,331.43 123.50,330.60 C124.57,329.77 125.53,328.98 126.70,327.80 C127.87,326.62 129.22,324.80 130.50,323.50 C131.78,322.20 133.23,320.58 134.40,320.00 C135.57,319.42 136.22,319.67 137.50,320.00 C138.78,320.33 140.52,320.92 142.10,322.00 C143.68,323.08 145.30,324.83 147.00,326.50 C148.70,328.17 150.63,330.42 152.30,332.00 C153.97,333.58 155.28,334.75 157.00,336.00 C158.72,337.25 160.43,338.30 162.60,339.50 C164.77,340.70 167.53,342.02 170.00,343.20 C172.47,344.38 176.17,346.03 177.40,346.60" fill="none" stroke="#d88a84" stroke-width="0.7"/>
<path d="M58.40,352.60 C59.00,352.17 60.87,351.38 62.00,350.00 C63.13,348.62 64.20,346.80 65.20,344.30 C66.20,341.80 67.13,338.85 68.00,335.00 C68.87,331.15 69.65,325.87 70.40,321.20 C71.15,316.53 71.87,311.27 72.50,307.00 C73.13,302.73 73.65,298.52 74.20,295.60 C74.75,292.68 75.37,290.78 75.80,289.50 C76.23,288.22 76.40,288.05 76.80,287.90 C77.20,287.75 77.57,287.95 78.20,288.60 C78.83,289.25 79.88,290.07 80.60,291.80 C81.32,293.53 81.85,296.23 82.50,299.00 C83.15,301.77 83.85,305.73 84.50,308.40 C85.15,311.07 85.77,313.07 86.40,315.00 C87.03,316.93 87.57,318.67 88.30,320.00 C89.03,321.33 89.95,322.13 90.80,323.00 C91.65,323.87 92.65,324.43 93.40,325.20 C94.15,325.97 94.65,326.77 95.30,327.60 C95.95,328.43 96.52,329.38 97.30,330.20 C98.08,331.02 99.15,331.95 100.00,332.50 C100.85,333.05 101.07,333.20 102.40,333.50 C103.73,333.80 106.08,334.13 108.00,334.30 C109.92,334.47 112.32,334.55 113.90,334.50 C115.48,334.45 116.43,334.28 117.50,334.00 C118.57,333.72 119.30,333.37 120.30,332.80 C121.30,332.23 122.43,331.47 123.50,330.60 C124.57,329.73 125.53,328.87 126.70,327.60 C127.87,326.33 129.22,324.33 130.50,323.00 C131.78,321.67 133.23,320.20 134.40,319.60 C135.57,319.00 136.22,319.13 137.50,319.40 C138.78,319.67 140.52,320.13 142.10,321.20 C143.68,322.27 145.30,324.08 147.00,325.80 C148.70,327.52 150.63,329.87 152.30,331.50 C153.97,333.13 155.28,334.32 157.00,335.60 C158.72,336.88 160.43,337.97 162.60,339.20 C164.77,340.43 167.53,341.80 170.00,343.00 C172.47,344.20 176.17,345.83 177.40,346.40" fill="none" stroke="#3aaac4" stroke-width="0.7"/>
<path d="M183.6,253.2 L183.6,321.6 L230.1,321.6" fill="none" stroke="#777" stroke-width="0.6"/>
<path d="M182,265 L183.6,265" stroke="#777" stroke-width="0.5"/>
<text x="181.2" y="266.6" font-size="4.8" fill="#555" text-anchor="end">3,700</text>
<path d="M182,287.9 L183.6,287.9" stroke="#777" stroke-width="0.5"/>
<text x="181.2" y="289.5" font-size="4.8" fill="#555" text-anchor="end">3,500</text>
<path d="M182,311 L183.6,311" stroke="#777" stroke-width="0.5"/>
<text x="181.2" y="312.6" font-size="4.8" fill="#555" text-anchor="end">3,300</text>
<path d="M192,321.6 L192,323.2" stroke="#777" stroke-width="0.5"/>
<text transform="translate(193.8,325.6) rotate(-45)" font-size="4.8" fill="#555" text-anchor="end">1,130</text>
<path d="M210.6,321.6 L210.6,323.2" stroke="#777" stroke-width="0.5"/>
<text transform="translate(212.4,325.6) rotate(-45)" font-size="4.8" fill="#555" text-anchor="end">1,150</text>
<path d="M229,321.6 L229,323.2" stroke="#777" stroke-width="0.5"/>
<text transform="translate(230.8,325.6) rotate(-45)" font-size="4.8" fill="#555" text-anchor="end">1,170</text>
<path d="M189.50,321.60 C189.92,319.33 191.17,312.77 192.00,308.00 C192.83,303.23 193.62,297.50 194.50,293.00 C195.38,288.50 196.38,283.67 197.30,281.00 C198.22,278.33 199.13,277.90 200.00,277.00 C200.87,276.10 201.67,275.35 202.50,275.60 C203.33,275.85 204.02,277.27 205.00,278.50 C205.98,279.73 207.23,281.08 208.40,283.00 C209.57,284.92 210.82,287.67 212.00,290.00 C213.18,292.33 214.33,294.17 215.50,297.00 C216.67,299.83 217.83,302.90 219.00,307.00 C220.17,311.10 221.92,319.17 222.50,321.60" fill="none" stroke="#d08a80" stroke-width="0.7"/>
<path d="M191.90,321.60 C192.25,319.33 193.32,312.43 194.00,308.00 C194.68,303.57 195.37,298.43 196.00,295.00 C196.63,291.57 197.12,289.45 197.80,287.40 C198.48,285.35 199.40,284.27 200.10,282.70 C200.80,281.13 201.40,279.22 202.00,278.00 C202.60,276.78 202.95,275.48 203.70,275.40 C204.45,275.32 205.33,276.63 206.50,277.50 C207.67,278.37 209.37,278.85 210.70,280.60 C212.03,282.35 213.12,285.10 214.50,288.00 C215.88,290.90 217.58,295.00 219.00,298.00 C220.42,301.00 221.83,303.33 223.00,306.00 C224.17,308.67 225.10,311.40 226.00,314.00 C226.90,316.60 228.00,320.33 228.40,321.60" fill="none" stroke="#2a9ab4" stroke-width="0.7"/>
<path d="M113,256.4 L119,256.4" stroke="#d88a84" stroke-width="0.8"/>
<path d="M113,264.7 L119,264.7" stroke="#3aaac4" stroke-width="0.8"/>
<text x="123.5" y="258.4" font-size="7" fill="#444" text-anchor="start" textLength="24.3" lengthAdjust="spacingAndGlyphs">Tumour</text>
<text x="123.5" y="266.7" font-size="7" fill="#444" text-anchor="start" textLength="38.5" lengthAdjust="spacingAndGlyphs">Non-tumour</text>
<path d="M99.8,275.1 L81,286.6" stroke="#35507a" stroke-width="0.7"/>
<path d="M78.6,287.9 L80.6,284.8 L82.3,287.6 Z" fill="#35507a"/>
<path d="M112.6,302.8 L129.2,316.3" stroke="#35507a" stroke-width="0.7"/>
<path d="M131.1,317.9 L127.6,316.6 L129.7,314 Z" fill="#35507a"/>
<text x="82.6" y="276.2" font-size="6.8" fill="#333">E<tspan font-size="5" dy="1.8">11</tspan></text>
<text x="119.2" y="306.6" font-size="6.8" fill="#333">E<tspan font-size="5" dy="1.8">11</tspan><tspan font-size="4.6" dy="-5.6">–</tspan></text>
<text x="258.2" y="256.4" font-size="10.2" fill="#111" text-anchor="start" font-weight="bold" textLength="5.6" lengthAdjust="spacingAndGlyphs">c</text>
<polygon points="312.30,251.40 414.60,253.50 414.60,330.50 312.30,327.50" fill="#efefef"/>
<polygon points="312.30,251.40 312.30,327.50 290.00,365.00 286.00,282.00" fill="#f4f4f4"/>
<polygon points="312.30,327.50 414.60,330.50 403.00,369.50 290.00,365.00" fill="#f2f2f2"/>
<path d="M312.30,256.10 L414.60,258.26 M312.30,256.10 L286.25,287.13 M312.30,265.37 L414.60,267.64 M312.30,265.37 L286.73,297.24 M312.30,274.64 L414.60,277.01 M312.30,274.64 L287.22,307.35 M312.30,283.91 L414.60,286.39 M312.30,283.91 L287.71,317.46 M312.30,293.18 L414.60,295.77 M312.30,293.18 L288.20,327.57 M312.30,302.45 L414.60,305.15 M312.30,302.45 L288.68,337.68 M312.30,311.72 L414.60,314.53 M312.30,311.72 L289.17,347.79 M312.30,320.99 L414.60,323.91 M312.30,320.99 L289.66,357.90 M330.41,328.03 L330.41,251.77 M330.41,328.03 L310.00,365.80 M348.51,328.56 L348.51,252.14 M348.51,328.56 L330.00,366.59 M366.01,329.07 L366.01,252.50 M366.01,329.07 L349.32,367.36 M383.40,329.58 L383.40,252.86 M383.40,329.58 L368.53,368.13 M401.51,330.12 L401.51,253.23 M401.51,330.12 L388.54,368.92 M308.73,333.50 L308.09,256.30 M308.73,333.50 L412.74,336.74 M305.16,339.50 L303.88,261.19 M305.16,339.50 L410.89,342.98 M301.15,346.25 L299.15,266.70 M301.15,346.25 L408.80,350.00 M297.14,353.00 L294.42,272.21 M297.14,353.00 L406.71,357.02 M293.35,359.38 L289.94,277.41 M293.35,359.38 L404.74,363.65" stroke="#d9d9d9" stroke-width="0.5" fill="none"/>
<path d="M414.6,253.4 L414.6,331 M414.60,330.50 L403.00,369.50 M290.00,365.00 L403.00,369.50" stroke="#666" stroke-width="0.5" fill="none"/>
<path d="M414.6,258.1 L417,258.1" stroke="#666" stroke-width="0.5"/>
<text x="420.3" y="260.1" font-size="5.6" fill="#444" text-anchor="start">4</text>
<path d="M414.6,276.6 L417,276.6" stroke="#666" stroke-width="0.5"/>
<text x="420.3" y="278.6" font-size="5.6" fill="#444" text-anchor="start">2</text>
<path d="M414.6,295 L417,295" stroke="#666" stroke-width="0.5"/>
<text x="420.3" y="297" font-size="5.6" fill="#444" text-anchor="start">0</text>
<path d="M414.6,313.5 L417,313.5" stroke="#666" stroke-width="0.5"/>
<text x="420.3" y="315.5" font-size="5.6" fill="#444" text-anchor="start">2</text>
<path d="M414.6,332.3 L417,332.3" stroke="#666" stroke-width="0.5"/>
<text x="416.8" y="334.3" font-size="5.6" fill="#444" text-anchor="start">−4</text>
<path d="M413.4,332.5 L415.79999999999995,332.5" stroke="#666" stroke-width="0.5"/>
<path d="M410.9,344.6 L413.29999999999995,344.6" stroke="#666" stroke-width="0.5"/>
<text x="415.7" y="346.6" font-size="5.6" fill="#444" text-anchor="start">0</text>
<path d="M407.1,357.4 L409.5,357.4" stroke="#666" stroke-width="0.5"/>
<text x="411.90000000000003" y="359.4" font-size="5.6" fill="#444" text-anchor="start">4</text>
<text x="288.6" y="371" font-size="5.6" fill="#444" text-anchor="middle">6</text>
<text x="327.3" y="372.8" font-size="5.6" fill="#444" text-anchor="middle">2</text>
<text x="366" y="372.8" font-size="5.6" fill="#444" text-anchor="middle">0</text>
<text x="397.6" y="372.8" font-size="5.6" fill="#444" text-anchor="middle">−2</text>
<text transform="translate(429.4,290.6) rotate(90)" font-size="6.6" fill="#333" text-anchor="middle" textLength="38" lengthAdjust="spacingAndGlyphs">PC3 (9.74%)</text>
<text transform="translate(424.4,349.2) rotate(108.4)" font-size="6.6" fill="#333" text-anchor="middle" textLength="41" lengthAdjust="spacingAndGlyphs">PC2 (23.59%)</text>
<text x="325.3" y="386.6" font-size="6.6" fill="#333" text-anchor="start" textLength="42.2" lengthAdjust="spacingAndGlyphs">PC1 (45.05%)</text>
<g fill="#b65d56" fill-opacity="0.7"><circle cx="318.2" cy="297.1" r="1.45"/><circle cx="330.7" cy="305.6" r="1.45"/><circle cx="311.1" cy="295.7" r="1.45"/><circle cx="363.3" cy="314.7" r="1.45"/><circle cx="344.6" cy="279.8" r="1.45"/><circle cx="378.7" cy="293.5" r="1.45"/><circle cx="345.0" cy="304.6" r="1.45"/><circle cx="329.1" cy="296.3" r="1.45"/><circle cx="335.2" cy="300.0" r="1.45"/><circle cx="323.4" cy="311.6" r="1.45"/><circle cx="340.0" cy="299.3" r="1.45"/><circle cx="339.5" cy="309.3" r="1.45"/><circle cx="382.6" cy="312.5" r="1.45"/><circle cx="347.4" cy="314.4" r="1.45"/><circle cx="376.7" cy="318.8" r="1.45"/><circle cx="361.0" cy="302.9" r="1.45"/><circle cx="352.3" cy="308.8" r="1.45"/><circle cx="351.2" cy="289.8" r="1.45"/><circle cx="347.0" cy="310.5" r="1.45"/><circle cx="354.3" cy="302.3" r="1.45"/><circle cx="313.3" cy="323.9" r="1.45"/><circle cx="360.9" cy="314.7" r="1.45"/><circle cx="363.2" cy="304.9" r="1.45"/><circle cx="317.8" cy="292.2" r="1.45"/><circle cx="334.0" cy="290.7" r="1.45"/><circle cx="364.4" cy="316.9" r="1.45"/><circle cx="329.4" cy="328.7" r="1.45"/><circle cx="340.9" cy="325.2" r="1.45"/><circle cx="308.7" cy="311.5" r="1.45"/><circle cx="390.9" cy="330.0" r="1.45"/><circle cx="333.5" cy="317.6" r="1.45"/><circle cx="350.2" cy="312.1" r="1.45"/><circle cx="324.0" cy="292.6" r="1.45"/><circle cx="339.8" cy="314.6" r="1.45"/><circle cx="331.2" cy="307.5" r="1.45"/><circle cx="355.8" cy="314.2" r="1.45"/><circle cx="357.0" cy="303.4" r="1.45"/><circle cx="332.3" cy="270.0" r="1.45"/><circle cx="368.4" cy="289.4" r="1.45"/><circle cx="345.4" cy="310.1" r="1.45"/><circle cx="347.2" cy="294.9" r="1.45"/><circle cx="350.7" cy="325.6" r="1.45"/><circle cx="349.3" cy="314.0" r="1.45"/><circle cx="362.5" cy="313.1" r="1.45"/><circle cx="365.2" cy="300.8" r="1.45"/><circle cx="361.4" cy="307.2" r="1.45"/><circle cx="332.8" cy="309.9" r="1.45"/><circle cx="342.3" cy="307.3" r="1.45"/><circle cx="362.3" cy="316.6" r="1.45"/><circle cx="375.2" cy="310.4" r="1.45"/><circle cx="344.4" cy="305.5" r="1.45"/><circle cx="372.1" cy="300.0" r="1.45"/><circle cx="355.2" cy="309.0" r="1.45"/><circle cx="326.3" cy="307.3" r="1.45"/><circle cx="358.3" cy="309.8" r="1.45"/><circle cx="349.2" cy="289.4" r="1.45"/><circle cx="343.8" cy="292.6" r="1.45"/><circle cx="337.5" cy="318.1" r="1.45"/><circle cx="363.5" cy="303.7" r="1.45"/><circle cx="365.6" cy="301.9" r="1.45"/><circle cx="336.4" cy="315.0" r="1.45"/><circle cx="372.0" cy="317.8" r="1.45"/><circle cx="370.8" cy="301.5" r="1.45"/><circle cx="350.0" cy="296.9" r="1.45"/><circle cx="355.5" cy="306.3" r="1.45"/><circle cx="373.3" cy="314.0" r="1.45"/><circle cx="355.1" cy="323.2" r="1.45"/><circle cx="324.9" cy="292.1" r="1.45"/><circle cx="365.5" cy="311.3" r="1.45"/><circle cx="354.9" cy="314.6" r="1.45"/><circle cx="342.7" cy="299.6" r="1.45"/><circle cx="341.0" cy="319.4" r="1.45"/><circle cx="307.1" cy="306.1" r="1.45"/><circle cx="363.5" cy="304.4" r="1.45"/><circle cx="348.5" cy="313.0" r="1.45"/><circle cx="368.2" cy="296.2" r="1.45"/><circle cx="364.3" cy="308.4" r="1.45"/><circle cx="322.0" cy="299.9" r="1.45"/><circle cx="314.6" cy="305.7" r="1.45"/><circle cx="339.8" cy="323.2" r="1.45"/><circle cx="346.0" cy="309.3" r="1.45"/><circle cx="338.5" cy="294.5" r="1.45"/><circle cx="339.6" cy="304.1" r="1.45"/><circle cx="360.6" cy="310.7" r="1.45"/><circle cx="381.7" cy="315.5" r="1.45"/><circle cx="355.1" cy="311.6" r="1.45"/><circle cx="330.7" cy="310.4" r="1.45"/><circle cx="366.2" cy="289.6" r="1.45"/><circle cx="357.7" cy="319.4" r="1.45"/><circle cx="354.2" cy="297.9" r="1.45"/><circle cx="357.5" cy="316.2" r="1.45"/><circle cx="345.7" cy="297.9" r="1.45"/><circle cx="352.6" cy="300.1" r="1.45"/><circle cx="357.7" cy="307.6" r="1.45"/><circle cx="350.5" cy="304.1" r="1.45"/><circle cx="327.3" cy="291.8" r="1.45"/><circle cx="322.1" cy="297.4" r="1.45"/><circle cx="368.8" cy="307.7" r="1.45"/><circle cx="359.2" cy="323.8" r="1.45"/><circle cx="336.0" cy="295.8" r="1.45"/><circle cx="373.6" cy="277.2" r="1.45"/><circle cx="324.5" cy="301.8" r="1.45"/><circle cx="378.6" cy="303.0" r="1.45"/><circle cx="367.0" cy="315.8" r="1.45"/><circle cx="354.1" cy="298.9" r="1.45"/><circle cx="337.2" cy="292.9" r="1.45"/><circle cx="358.7" cy="317.1" r="1.45"/><circle cx="357.8" cy="313.7" r="1.45"/><circle cx="346.9" cy="291.3" r="1.45"/><circle cx="369.6" cy="307.8" r="1.45"/><circle cx="361.7" cy="313.5" r="1.45"/><circle cx="345.5" cy="322.2" r="1.45"/><circle cx="321.5" cy="302.6" r="1.45"/><circle cx="346.1" cy="316.4" r="1.45"/><circle cx="360.9" cy="306.6" r="1.45"/><circle cx="371.1" cy="309.3" r="1.45"/><circle cx="358.0" cy="320.4" r="1.45"/><circle cx="349.0" cy="307.3" r="1.45"/><circle cx="335.9" cy="306.0" r="1.45"/><circle cx="334.8" cy="302.7" r="1.45"/><circle cx="370.2" cy="315.9" r="1.45"/><circle cx="386.9" cy="308.1" r="1.45"/><circle cx="343.8" cy="308.7" r="1.45"/><circle cx="365.8" cy="293.1" r="1.45"/><circle cx="347.7" cy="313.8" r="1.45"/><circle cx="359.5" cy="307.8" r="1.45"/><circle cx="362.4" cy="311.2" r="1.45"/><circle cx="346.6" cy="301.0" r="1.45"/><circle cx="346.5" cy="305.4" r="1.45"/><circle cx="365.7" cy="318.3" r="1.45"/><circle cx="358.3" cy="320.3" r="1.45"/><circle cx="340.3" cy="314.0" r="1.45"/><circle cx="357.8" cy="314.9" r="1.45"/><circle cx="339.3" cy="298.9" r="1.45"/><circle cx="327.9" cy="294.4" r="1.45"/><circle cx="350.3" cy="292.4" r="1.45"/><circle cx="346.4" cy="315.4" r="1.45"/><circle cx="363.4" cy="339.0" r="1.45"/><circle cx="359.9" cy="315.0" r="1.45"/><circle cx="351.6" cy="313.0" r="1.45"/><circle cx="327.1" cy="313.3" r="1.45"/><circle cx="313.8" cy="307.5" r="1.45"/><circle cx="342.8" cy="314.3" r="1.45"/><circle cx="359.8" cy="309.1" r="1.45"/><circle cx="353.0" cy="298.5" r="1.45"/><circle cx="354.3" cy="312.5" r="1.45"/><circle cx="355.9" cy="300.5" r="1.45"/><circle cx="343.8" cy="305.8" r="1.45"/><circle cx="344.3" cy="319.0" r="1.45"/><circle cx="358.4" cy="308.0" r="1.45"/><circle cx="353.1" cy="293.0" r="1.45"/><circle cx="343.7" cy="316.9" r="1.45"/><circle cx="332.4" cy="311.6" r="1.45"/><circle cx="325.1" cy="274.9" r="1.45"/><circle cx="308.3" cy="302.6" r="1.45"/><circle cx="355.2" cy="314.5" r="1.45"/><circle cx="385.7" cy="315.2" r="1.45"/><circle cx="343.1" cy="290.7" r="1.45"/><circle cx="334.1" cy="313.6" r="1.45"/><circle cx="380.8" cy="311.0" r="1.45"/><circle cx="374.4" cy="304.1" r="1.45"/><circle cx="358.4" cy="301.4" r="1.45"/><circle cx="370.0" cy="301.8" r="1.45"/><circle cx="353.6" cy="300.1" r="1.45"/><circle cx="365.2" cy="314.2" r="1.45"/><circle cx="367.0" cy="311.5" r="1.45"/><circle cx="343.7" cy="303.3" r="1.45"/><circle cx="344.7" cy="301.0" r="1.45"/><circle cx="334.1" cy="302.0" r="1.45"/><circle cx="374.9" cy="312.0" r="1.45"/><circle cx="355.3" cy="284.3" r="1.45"/><circle cx="314.2" cy="284.0" r="1.45"/><circle cx="347.8" cy="310.1" r="1.45"/><circle cx="329.5" cy="300.8" r="1.45"/><circle cx="368.8" cy="304.8" r="1.45"/><circle cx="372.3" cy="309.2" r="1.45"/><circle cx="333.1" cy="294.1" r="1.45"/><circle cx="311.5" cy="285.4" r="1.45"/><circle cx="344.1" cy="294.0" r="1.45"/><circle cx="361.1" cy="319.4" r="1.45"/><circle cx="388.0" cy="321.5" r="1.45"/><circle cx="330.7" cy="304.2" r="1.45"/><circle cx="346.8" cy="321.1" r="1.45"/><circle cx="346.7" cy="322.3" r="1.45"/><circle cx="363.9" cy="311.1" r="1.45"/><circle cx="350.8" cy="313.7" r="1.45"/><circle cx="373.3" cy="302.8" r="1.45"/><circle cx="375.8" cy="295.0" r="1.45"/><circle cx="349.9" cy="289.9" r="1.45"/><circle cx="363.8" cy="309.4" r="1.45"/><circle cx="375.7" cy="306.5" r="1.45"/><circle cx="381.2" cy="310.6" r="1.45"/><circle cx="368.8" cy="319.5" r="1.45"/><circle cx="353.5" cy="312.0" r="1.45"/><circle cx="364.3" cy="317.5" r="1.45"/><circle cx="340.0" cy="309.4" r="1.45"/><circle cx="327.7" cy="313.4" r="1.45"/><circle cx="391.5" cy="313.8" r="1.45"/><circle cx="352.6" cy="313.5" r="1.45"/><circle cx="356.8" cy="297.3" r="1.45"/><circle cx="348.7" cy="322.1" r="1.45"/><circle cx="333.0" cy="299.6" r="1.45"/><circle cx="356.5" cy="315.9" r="1.45"/><circle cx="380.4" cy="303.3" r="1.45"/><circle cx="347.5" cy="300.6" r="1.45"/><circle cx="346.7" cy="305.4" r="1.45"/><circle cx="358.1" cy="311.5" r="1.45"/><circle cx="330.5" cy="302.2" r="1.45"/><circle cx="341.1" cy="308.4" r="1.45"/><circle cx="351.0" cy="291.7" r="1.45"/><circle cx="357.6" cy="311.9" r="1.45"/><circle cx="353.3" cy="303.0" r="1.45"/><circle cx="350.5" cy="325.2" r="1.45"/><circle cx="324.6" cy="283.2" r="1.45"/><circle cx="326.7" cy="301.2" r="1.45"/><circle cx="338.2" cy="311.0" r="1.45"/><circle cx="339.9" cy="293.6" r="1.45"/><circle cx="317.0" cy="291.6" r="1.45"/><circle cx="343.6" cy="322.7" r="1.45"/><circle cx="340.7" cy="314.2" r="1.45"/><circle cx="325.9" cy="315.2" r="1.45"/><circle cx="350.2" cy="313.7" r="1.45"/><circle cx="349.7" cy="300.2" r="1.45"/><circle cx="329.4" cy="281.9" r="1.45"/><circle cx="384.9" cy="305.9" r="1.45"/><circle cx="356.5" cy="302.3" r="1.45"/><circle cx="321.8" cy="317.5" r="1.45"/><circle cx="352.2" cy="317.5" r="1.45"/><circle cx="341.5" cy="314.5" r="1.45"/><circle cx="359.0" cy="320.8" r="1.45"/><circle cx="322.5" cy="300.9" r="1.45"/><circle cx="364.0" cy="324.2" r="1.45"/><circle cx="351.3" cy="310.8" r="1.45"/><circle cx="332.1" cy="303.2" r="1.45"/><circle cx="335.2" cy="293.6" r="1.45"/><circle cx="306.3" cy="290.9" r="1.45"/><circle cx="359.2" cy="306.6" r="1.45"/><circle cx="371.6" cy="318.0" r="1.45"/><circle cx="334.3" cy="279.6" r="1.45"/><circle cx="357.0" cy="324.7" r="1.45"/><circle cx="353.5" cy="300.2" r="1.45"/><circle cx="375.4" cy="309.4" r="1.45"/><circle cx="327.1" cy="302.4" r="1.45"/><circle cx="366.2" cy="306.1" r="1.45"/><circle cx="336.3" cy="291.7" r="1.45"/><circle cx="368.9" cy="294.9" r="1.45"/><circle cx="339.6" cy="298.9" r="1.45"/><circle cx="357.4" cy="300.8" r="1.45"/><circle cx="368.0" cy="322.8" r="1.45"/><circle cx="345.1" cy="311.9" r="1.45"/><circle cx="322.4" cy="301.5" r="1.45"/><circle cx="364.8" cy="313.5" r="1.45"/><circle cx="317.4" cy="280.4" r="1.45"/><circle cx="352.4" cy="302.1" r="1.45"/><circle cx="355.7" cy="308.2" r="1.45"/><circle cx="339.8" cy="304.7" r="1.45"/><circle cx="347.6" cy="296.6" r="1.45"/><circle cx="357.2" cy="316.4" r="1.45"/><circle cx="335.7" cy="286.6" r="1.45"/><circle cx="359.5" cy="300.6" r="1.45"/><circle cx="379.0" cy="299.5" r="1.45"/><circle cx="313.6" cy="297.4" r="1.45"/><circle cx="352.9" cy="311.9" r="1.45"/><circle cx="357.0" cy="301.2" r="1.45"/><circle cx="339.2" cy="306.6" r="1.45"/><circle cx="345.5" cy="302.6" r="1.45"/><circle cx="318.9" cy="299.0" r="1.45"/><circle cx="347.0" cy="296.4" r="1.45"/><circle cx="343.3" cy="305.8" r="1.45"/><circle cx="365.1" cy="302.8" r="1.45"/><circle cx="364.6" cy="310.3" r="1.45"/><circle cx="368.0" cy="323.6" r="1.45"/><circle cx="349.3" cy="276.1" r="1.45"/><circle cx="363.0" cy="314.0" r="1.45"/><circle cx="367.0" cy="316.9" r="1.45"/><circle cx="372.4" cy="308.4" r="1.45"/><circle cx="342.7" cy="322.8" r="1.45"/><circle cx="358.1" cy="307.8" r="1.45"/><circle cx="357.2" cy="320.6" r="1.45"/><circle cx="368.6" cy="325.4" r="1.45"/><circle cx="349.6" cy="312.0" r="1.45"/><circle cx="327.2" cy="308.7" r="1.45"/><circle cx="349.1" cy="304.7" r="1.45"/><circle cx="311.4" cy="309.3" r="1.45"/><circle cx="350.6" cy="307.6" r="1.45"/><circle cx="349.1" cy="302.2" r="1.45"/><circle cx="349.8" cy="309.0" r="1.45"/><circle cx="355.3" cy="303.6" r="1.45"/><circle cx="348.1" cy="317.0" r="1.45"/><circle cx="347.7" cy="316.2" r="1.45"/><circle cx="345.8" cy="302.2" r="1.45"/><circle cx="333.2" cy="286.3" r="1.45"/><circle cx="328.3" cy="300.4" r="1.45"/><circle cx="355.3" cy="305.9" r="1.45"/><circle cx="356.2" cy="307.1" r="1.45"/><circle cx="358.9" cy="318.2" r="1.45"/><circle cx="346.2" cy="306.1" r="1.45"/><circle cx="356.5" cy="313.5" r="1.45"/><circle cx="384.3" cy="322.1" r="1.45"/><circle cx="329.0" cy="305.1" r="1.45"/><circle cx="358.8" cy="301.9" r="1.45"/><circle cx="349.6" cy="309.5" r="1.45"/><circle cx="338.0" cy="282.9" r="1.45"/><circle cx="340.3" cy="297.1" r="1.45"/><circle cx="327.4" cy="306.6" r="1.45"/><circle cx="364.2" cy="316.0" r="1.45"/><circle cx="359.2" cy="293.6" r="1.45"/><circle cx="366.9" cy="323.8" r="1.45"/><circle cx="337.8" cy="304.6" r="1.45"/><circle cx="367.9" cy="322.1" r="1.45"/><circle cx="326.8" cy="304.3" r="1.45"/><circle cx="364.5" cy="331.1" r="1.45"/><circle cx="354.1" cy="312.8" r="1.45"/><circle cx="330.1" cy="299.7" r="1.45"/><circle cx="365.7" cy="307.1" r="1.45"/><circle cx="382.7" cy="330.0" r="1.45"/><circle cx="352.5" cy="288.5" r="1.45"/><circle cx="340.4" cy="304.9" r="1.45"/><circle cx="381.5" cy="312.0" r="1.45"/><circle cx="373.4" cy="323.5" r="1.45"/><circle cx="361.5" cy="306.2" r="1.45"/><circle cx="357.0" cy="304.6" r="1.45"/><circle cx="355.6" cy="310.5" r="1.45"/><circle cx="375.1" cy="294.7" r="1.45"/><circle cx="343.5" cy="320.5" r="1.45"/><circle cx="336.2" cy="315.1" r="1.45"/><circle cx="362.6" cy="311.0" r="1.45"/><circle cx="361.8" cy="317.2" r="1.45"/><circle cx="360.9" cy="319.8" r="1.45"/><circle cx="338.9" cy="303.9" r="1.45"/><circle cx="375.2" cy="315.2" r="1.45"/><circle cx="357.3" cy="292.9" r="1.45"/><circle cx="333.0" cy="313.2" r="1.45"/><circle cx="353.3" cy="294.2" r="1.45"/><circle cx="382.5" cy="312.4" r="1.45"/><circle cx="337.6" cy="312.3" r="1.45"/><circle cx="368.2" cy="304.9" r="1.45"/><circle cx="320.4" cy="313.0" r="1.45"/><circle cx="376.2" cy="317.0" r="1.45"/><circle cx="349.6" cy="296.6" r="1.45"/><circle cx="344.8" cy="319.4" r="1.45"/><circle cx="348.1" cy="306.2" r="1.45"/><circle cx="347.8" cy="310.2" r="1.45"/><circle cx="340.3" cy="306.4" r="1.45"/><circle cx="342.7" cy="311.8" r="1.45"/><circle cx="372.6" cy="280.5" r="1.45"/><circle cx="363.2" cy="303.5" r="1.45"/><circle cx="356.7" cy="324.3" r="1.45"/><circle cx="358.0" cy="307.4" r="1.45"/><circle cx="366.2" cy="318.7" r="1.45"/><circle cx="364.0" cy="310.6" r="1.45"/><circle cx="349.4" cy="311.5" r="1.45"/><circle cx="358.4" cy="301.5" r="1.45"/><circle cx="347.8" cy="307.0" r="1.45"/><circle cx="346.7" cy="290.9" r="1.45"/><circle cx="392.3" cy="304.3" r="1.45"/><circle cx="355.6" cy="316.7" r="1.45"/><circle cx="360.4" cy="306.5" r="1.45"/><circle cx="341.0" cy="315.6" r="1.45"/><circle cx="375.6" cy="270.0" r="1.45"/><circle cx="327.5" cy="291.2" r="1.45"/><circle cx="359.2" cy="311.3" r="1.45"/><circle cx="338.8" cy="325.1" r="1.45"/><circle cx="350.0" cy="304.0" r="1.45"/><circle cx="368.1" cy="307.4" r="1.45"/><circle cx="337.4" cy="307.1" r="1.45"/><circle cx="355.3" cy="314.8" r="1.45"/><circle cx="337.5" cy="293.4" r="1.45"/><circle cx="334.5" cy="290.8" r="1.45"/><circle cx="353.8" cy="316.8" r="1.45"/><circle cx="345.6" cy="301.9" r="1.45"/><circle cx="390.6" cy="327.8" r="1.45"/><circle cx="332.6" cy="304.5" r="1.45"/><circle cx="323.7" cy="291.2" r="1.45"/><circle cx="354.2" cy="305.7" r="1.45"/><circle cx="352.4" cy="302.3" r="1.45"/><circle cx="342.2" cy="306.0" r="1.45"/><circle cx="356.2" cy="309.4" r="1.45"/><circle cx="352.1" cy="300.1" r="1.45"/><circle cx="341.9" cy="307.7" r="1.45"/><circle cx="342.7" cy="301.1" r="1.45"/><circle cx="356.0" cy="298.9" r="1.45"/><circle cx="365.7" cy="299.5" r="1.45"/><circle cx="361.4" cy="308.6" r="1.45"/><circle cx="363.1" cy="321.1" r="1.45"/><circle cx="326.4" cy="311.3" r="1.45"/><circle cx="355.0" cy="303.0" r="1.45"/><circle cx="355.8" cy="321.2" r="1.45"/><circle cx="373.0" cy="314.4" r="1.45"/><circle cx="322.8" cy="297.2" r="1.45"/><circle cx="336.9" cy="298.9" r="1.45"/><circle cx="336.2" cy="310.8" r="1.45"/><circle cx="353.9" cy="305.9" r="1.45"/><circle cx="333.8" cy="301.9" r="1.45"/><circle cx="352.7" cy="314.1" r="1.45"/><circle cx="365.4" cy="312.8" r="1.45"/><circle cx="339.6" cy="306.3" r="1.45"/><circle cx="377.2" cy="321.1" r="1.45"/><circle cx="334.7" cy="304.1" r="1.45"/><circle cx="365.7" cy="297.0" r="1.45"/><circle cx="321.3" cy="303.1" r="1.45"/><circle cx="339.9" cy="296.4" r="1.45"/><circle cx="355.3" cy="283.2" r="1.45"/><circle cx="308.0" cy="302.5" r="1.45"/><circle cx="337.1" cy="322.2" r="1.45"/><circle cx="323.8" cy="303.3" r="1.45"/><circle cx="355.7" cy="310.6" r="1.45"/><circle cx="354.2" cy="294.7" r="1.45"/><circle cx="351.6" cy="320.3" r="1.45"/><circle cx="315.9" cy="309.3" r="1.45"/><circle cx="328.5" cy="327.6" r="1.45"/><circle cx="367.8" cy="313.3" r="1.45"/><circle cx="365.7" cy="313.7" r="1.45"/><circle cx="366.1" cy="301.8" r="1.45"/><circle cx="336.5" cy="309.1" r="1.45"/><circle cx="331.5" cy="317.0" r="1.45"/><circle cx="328.8" cy="303.3" r="1.45"/><circle cx="357.6" cy="314.9" r="1.45"/><circle cx="320.7" cy="299.1" r="1.45"/><circle cx="376.1" cy="311.6" r="1.45"/><circle cx="356.4" cy="318.1" r="1.45"/><circle cx="329.2" cy="286.4" r="1.45"/><circle cx="362.1" cy="311.0" r="1.45"/><circle cx="323.6" cy="318.0" r="1.45"/><circle cx="350.2" cy="317.2" r="1.45"/><circle cx="349.8" cy="292.6" r="1.45"/><circle cx="346.2" cy="288.9" r="1.45"/><circle cx="327.7" cy="307.6" r="1.45"/><circle cx="346.1" cy="289.8" r="1.45"/><circle cx="346.7" cy="307.9" r="1.45"/><circle cx="352.3" cy="311.6" r="1.45"/><circle cx="331.4" cy="295.3" r="1.45"/><circle cx="334.2" cy="311.9" r="1.45"/><circle cx="331.4" cy="288.0" r="1.45"/><circle cx="347.5" cy="304.0" r="1.45"/><circle cx="329.9" cy="315.6" r="1.45"/><circle cx="327.7" cy="317.6" r="1.45"/><circle cx="348.2" cy="316.5" r="1.45"/><circle cx="338.7" cy="297.7" r="1.45"/><circle cx="325.4" cy="298.9" r="1.45"/><circle cx="344.9" cy="320.9" r="1.45"/><circle cx="357.2" cy="323.1" r="1.45"/><circle cx="383.0" cy="308.0" r="1.45"/><circle cx="347.3" cy="305.5" r="1.45"/><circle cx="347.6" cy="310.4" r="1.45"/><circle cx="343.2" cy="317.2" r="1.45"/><circle cx="360.8" cy="317.8" r="1.45"/><circle cx="363.8" cy="322.1" r="1.45"/><circle cx="364.2" cy="315.1" r="1.45"/><circle cx="364.3" cy="320.3" r="1.45"/><circle cx="328.5" cy="301.4" r="1.45"/><circle cx="322.4" cy="304.2" r="1.45"/><circle cx="330.3" cy="299.3" r="1.45"/><circle cx="336.6" cy="301.8" r="1.45"/><circle cx="351.9" cy="311.0" r="1.45"/><circle cx="368.1" cy="303.8" r="1.45"/><circle cx="346.9" cy="303.3" r="1.45"/><circle cx="322.2" cy="290.3" r="1.45"/><circle cx="318.1" cy="294.7" r="1.45"/><circle cx="336.5" cy="298.0" r="1.45"/><circle cx="340.9" cy="311.2" r="1.45"/><circle cx="363.4" cy="304.4" r="1.45"/><circle cx="360.4" cy="311.2" r="1.45"/><circle cx="346.6" cy="316.2" r="1.45"/><circle cx="358.2" cy="314.6" r="1.45"/><circle cx="347.0" cy="302.4" r="1.45"/><circle cx="318.6" cy="293.7" r="1.45"/><circle cx="328.8" cy="306.5" r="1.45"/><circle cx="337.4" cy="299.0" r="1.45"/><circle cx="366.1" cy="309.3" r="1.45"/><circle cx="362.5" cy="305.3" r="1.45"/><circle cx="343.8" cy="295.0" r="1.45"/><circle cx="356.2" cy="304.8" r="1.45"/><circle cx="331.4" cy="307.0" r="1.45"/><circle cx="346.1" cy="322.8" r="1.45"/><circle cx="353.0" cy="315.9" r="1.45"/><circle cx="360.4" cy="319.8" r="1.45"/><circle cx="340.9" cy="298.8" r="1.45"/><circle cx="332.7" cy="291.4" r="1.45"/><circle cx="354.5" cy="299.1" r="1.45"/><circle cx="357.9" cy="279.0" r="1.45"/><circle cx="334.5" cy="311.3" r="1.45"/><circle cx="332.2" cy="315.4" r="1.45"/><circle cx="349.0" cy="300.8" r="1.45"/><circle cx="353.8" cy="292.0" r="1.45"/><circle cx="336.8" cy="303.2" r="1.45"/><circle cx="330.4" cy="294.3" r="1.45"/><circle cx="363.0" cy="316.6" r="1.45"/><circle cx="353.2" cy="314.9" r="1.45"/><circle cx="302.0" cy="282.4" r="1.45"/><circle cx="368.3" cy="321.3" r="1.45"/><circle cx="341.1" cy="300.9" r="1.45"/><circle cx="357.0" cy="309.5" r="1.45"/><circle cx="355.5" cy="311.2" r="1.45"/><circle cx="346.0" cy="279.8" r="1.45"/><circle cx="333.1" cy="299.4" r="1.45"/><circle cx="336.6" cy="307.9" r="1.45"/><circle cx="361.5" cy="293.9" r="1.45"/><circle cx="334.8" cy="314.6" r="1.45"/><circle cx="367.8" cy="310.0" r="1.45"/><circle cx="324.5" cy="300.8" r="1.45"/><circle cx="338.7" cy="302.1" r="1.45"/><circle cx="351.8" cy="319.4" r="1.45"/><circle cx="333.5" cy="299.1" r="1.45"/><circle cx="365.9" cy="320.7" r="1.45"/><circle cx="354.6" cy="319.6" r="1.45"/><circle cx="351.7" cy="311.9" r="1.45"/><circle cx="346.4" cy="290.6" r="1.45"/><circle cx="343.0" cy="309.6" r="1.45"/><circle cx="361.5" cy="327.5" r="1.45"/><circle cx="327.1" cy="314.1" r="1.45"/><circle cx="370.9" cy="315.5" r="1.45"/><circle cx="342.8" cy="302.7" r="1.45"/><circle cx="385.9" cy="291.7" r="1.45"/><circle cx="364.9" cy="298.2" r="1.45"/><circle cx="345.2" cy="298.2" r="1.45"/><circle cx="349.3" cy="302.1" r="1.45"/><circle cx="344.9" cy="318.1" r="1.45"/><circle cx="345.7" cy="326.4" r="1.45"/><circle cx="304.5" cy="293.3" r="1.45"/><circle cx="350.5" cy="299.8" r="1.45"/><circle cx="364.8" cy="297.1" r="1.45"/><circle cx="383.6" cy="326.2" r="1.45"/><circle cx="348.6" cy="302.0" r="1.45"/><circle cx="372.8" cy="313.4" r="1.45"/><circle cx="340.3" cy="313.0" r="1.45"/><circle cx="357.7" cy="301.8" r="1.45"/><circle cx="344.1" cy="313.8" r="1.45"/><circle cx="348.9" cy="312.2" r="1.45"/><circle cx="351.4" cy="302.7" r="1.45"/><circle cx="328.9" cy="302.1" r="1.45"/><circle cx="342.4" cy="301.1" r="1.45"/><circle cx="350.0" cy="309.3" r="1.45"/><circle cx="340.4" cy="312.0" r="1.45"/><circle cx="362.3" cy="308.5" r="1.45"/><circle cx="340.5" cy="321.1" r="1.45"/><circle cx="353.0" cy="296.0" r="1.45"/><circle cx="355.1" cy="318.5" r="1.45"/><circle cx="357.6" cy="316.2" r="1.45"/><circle cx="365.4" cy="308.2" r="1.45"/><circle cx="303.0" cy="325.3" r="1.45"/><circle cx="324.0" cy="288.2" r="1.45"/><circle cx="357.2" cy="321.8" r="1.45"/><circle cx="366.0" cy="300.9" r="1.45"/><circle cx="344.8" cy="306.2" r="1.45"/><circle cx="345.5" cy="299.0" r="1.45"/><circle cx="338.2" cy="311.5" r="1.45"/><circle cx="335.2" cy="299.9" r="1.45"/><circle cx="374.0" cy="314.4" r="1.45"/><circle cx="334.1" cy="300.0" r="1.45"/><circle cx="362.4" cy="318.6" r="1.45"/><circle cx="351.0" cy="301.1" r="1.45"/><circle cx="368.2" cy="310.5" r="1.45"/><circle cx="386.0" cy="333.0" r="1.45"/><circle cx="355.1" cy="326.5" r="1.45"/><circle cx="379.8" cy="306.2" r="1.45"/><circle cx="302.0" cy="300.3" r="1.45"/><circle cx="353.4" cy="283.2" r="1.45"/><circle cx="358.2" cy="300.5" r="1.45"/><circle cx="359.0" cy="305.5" r="1.45"/></g>
<g fill="#177e98" fill-opacity="0.85"><circle cx="389.4" cy="299.3" r="1.45"/><circle cx="390.6" cy="308.4" r="1.45"/><circle cx="379.9" cy="302.7" r="1.45"/><circle cx="392.4" cy="301.6" r="1.45"/><circle cx="381.7" cy="307.8" r="1.45"/><circle cx="373.6" cy="287.5" r="1.45"/><circle cx="382.1" cy="302.1" r="1.45"/><circle cx="384.5" cy="299.0" r="1.45"/><circle cx="388.2" cy="306.8" r="1.45"/><circle cx="382.1" cy="309.1" r="1.45"/><circle cx="387.6" cy="304.0" r="1.45"/><circle cx="384.3" cy="291.3" r="1.45"/><circle cx="371.8" cy="290.6" r="1.45"/><circle cx="399.4" cy="318.4" r="1.45"/><circle cx="391.5" cy="303.5" r="1.45"/><circle cx="383.0" cy="308.5" r="1.45"/><circle cx="392.1" cy="304.2" r="1.45"/><circle cx="383.8" cy="300.0" r="1.45"/><circle cx="385.7" cy="298.0" r="1.45"/><circle cx="379.4" cy="297.4" r="1.45"/><circle cx="375.4" cy="293.0" r="1.45"/><circle cx="386.9" cy="302.4" r="1.45"/><circle cx="377.9" cy="298.5" r="1.45"/><circle cx="386.8" cy="303.2" r="1.45"/><circle cx="386.3" cy="309.3" r="1.45"/><circle cx="384.8" cy="298.3" r="1.45"/><circle cx="389.3" cy="311.0" r="1.45"/><circle cx="379.5" cy="300.5" r="1.45"/><circle cx="386.9" cy="298.5" r="1.45"/><circle cx="392.1" cy="306.6" r="1.45"/><circle cx="381.9" cy="290.3" r="1.45"/><circle cx="383.4" cy="295.0" r="1.45"/><circle cx="375.0" cy="285.5" r="1.45"/><circle cx="386.6" cy="295.2" r="1.45"/><circle cx="390.3" cy="301.8" r="1.45"/><circle cx="391.3" cy="298.1" r="1.45"/><circle cx="391.0" cy="298.1" r="1.45"/><circle cx="377.8" cy="297.8" r="1.45"/><circle cx="385.4" cy="306.9" r="1.45"/><circle cx="377.7" cy="300.6" r="1.45"/><circle cx="383.3" cy="298.8" r="1.45"/><circle cx="383.2" cy="296.4" r="1.45"/><circle cx="379.8" cy="285.9" r="1.45"/><circle cx="389.2" cy="298.3" r="1.45"/><circle cx="379.8" cy="298.7" r="1.45"/><circle cx="383.6" cy="298.1" r="1.45"/><circle cx="384.1" cy="304.9" r="1.45"/><circle cx="383.1" cy="295.8" r="1.45"/><circle cx="379.1" cy="306.4" r="1.45"/><circle cx="377.2" cy="294.1" r="1.45"/><circle cx="395.8" cy="312.2" r="1.45"/><circle cx="389.1" cy="306.3" r="1.45"/><circle cx="385.1" cy="293.7" r="1.45"/><circle cx="378.8" cy="298.1" r="1.45"/><circle cx="384.4" cy="313.7" r="1.45"/><circle cx="389.9" cy="310.1" r="1.45"/><circle cx="381.5" cy="295.0" r="1.45"/><circle cx="381.8" cy="295.5" r="1.45"/><circle cx="376.3" cy="296.8" r="1.45"/><circle cx="391.3" cy="318.5" r="1.45"/><circle cx="387.4" cy="307.5" r="1.45"/><circle cx="380.7" cy="305.5" r="1.45"/><circle cx="366.0" cy="294.2" r="1.45"/><circle cx="389.7" cy="307.6" r="1.45"/><circle cx="383.6" cy="293.3" r="1.45"/><circle cx="399.5" cy="304.9" r="1.45"/><circle cx="389.1" cy="302.6" r="1.45"/><circle cx="389.8" cy="305.1" r="1.45"/><circle cx="382.0" cy="300.9" r="1.45"/><circle cx="392.2" cy="305.7" r="1.45"/><circle cx="374.6" cy="293.3" r="1.45"/><circle cx="392.1" cy="300.7" r="1.45"/><circle cx="375.5" cy="299.7" r="1.45"/><circle cx="390.4" cy="306.3" r="1.45"/><circle cx="391.9" cy="313.8" r="1.45"/><circle cx="387.9" cy="314.0" r="1.45"/><circle cx="387.9" cy="307.0" r="1.45"/><circle cx="378.5" cy="293.2" r="1.45"/><circle cx="393.9" cy="309.8" r="1.45"/><circle cx="387.7" cy="298.5" r="1.45"/><circle cx="391.4" cy="307.0" r="1.45"/><circle cx="386.5" cy="302.9" r="1.45"/><circle cx="380.7" cy="295.6" r="1.45"/><circle cx="381.1" cy="301.8" r="1.45"/><circle cx="383.8" cy="299.1" r="1.45"/><circle cx="389.6" cy="302.4" r="1.45"/><circle cx="378.5" cy="294.3" r="1.45"/><circle cx="383.3" cy="302.8" r="1.45"/><circle cx="383.1" cy="303.2" r="1.45"/><circle cx="387.3" cy="308.8" r="1.45"/><circle cx="383.3" cy="293.6" r="1.45"/><circle cx="381.3" cy="312.0" r="1.45"/><circle cx="383.9" cy="300.2" r="1.45"/><circle cx="394.6" cy="307.8" r="1.45"/><circle cx="376.4" cy="300.0" r="1.45"/><circle cx="391.0" cy="305.4" r="1.45"/><circle cx="386.1" cy="304.1" r="1.45"/><circle cx="392.2" cy="295.7" r="1.45"/><circle cx="372.9" cy="293.1" r="1.45"/><circle cx="388.9" cy="307.5" r="1.45"/><circle cx="388.1" cy="305.5" r="1.45"/><circle cx="396.6" cy="312.1" r="1.45"/><circle cx="386.6" cy="297.4" r="1.45"/><circle cx="372.0" cy="293.3" r="1.45"/><circle cx="386.4" cy="308.9" r="1.45"/><circle cx="376.2" cy="286.9" r="1.45"/><circle cx="384.0" cy="296.7" r="1.45"/><circle cx="380.3" cy="300.7" r="1.45"/><circle cx="385.0" cy="296.4" r="1.45"/><circle cx="381.3" cy="294.9" r="1.45"/><circle cx="382.5" cy="294.6" r="1.45"/><circle cx="393.1" cy="312.8" r="1.45"/><circle cx="390.1" cy="308.4" r="1.45"/><circle cx="379.2" cy="294.7" r="1.45"/><circle cx="386.3" cy="301.5" r="1.45"/><circle cx="384.7" cy="297.1" r="1.45"/><circle cx="381.8" cy="296.3" r="1.45"/><circle cx="378.8" cy="301.0" r="1.45"/><circle cx="387.9" cy="307.6" r="1.45"/><circle cx="384.3" cy="301.8" r="1.45"/><circle cx="370.1" cy="287.2" r="1.45"/><circle cx="385.3" cy="295.2" r="1.45"/><circle cx="384.7" cy="297.3" r="1.45"/><circle cx="376.5" cy="294.3" r="1.45"/><circle cx="387.2" cy="298.0" r="1.45"/><circle cx="377.3" cy="290.2" r="1.45"/><circle cx="386.1" cy="303.7" r="1.45"/><circle cx="387.5" cy="300.9" r="1.45"/><circle cx="380.5" cy="302.9" r="1.45"/><circle cx="382.8" cy="305.2" r="1.45"/><circle cx="389.4" cy="298.8" r="1.45"/><circle cx="399.5" cy="317.1" r="1.45"/><circle cx="382.1" cy="303.8" r="1.45"/><circle cx="388.9" cy="296.1" r="1.45"/><circle cx="379.0" cy="303.2" r="1.45"/><circle cx="392.4" cy="311.3" r="1.45"/><circle cx="390.6" cy="309.7" r="1.45"/><circle cx="372.9" cy="286.9" r="1.45"/><circle cx="382.8" cy="300.1" r="1.45"/><circle cx="386.5" cy="311.0" r="1.45"/><circle cx="383.4" cy="300.4" r="1.45"/><circle cx="379.0" cy="300.4" r="1.45"/><circle cx="367.9" cy="293.0" r="1.45"/><circle cx="384.3" cy="303.2" r="1.45"/><circle cx="380.0" cy="302.4" r="1.45"/><circle cx="379.7" cy="301.1" r="1.45"/><circle cx="381.9" cy="294.4" r="1.45"/><circle cx="389.0" cy="305.2" r="1.45"/><circle cx="382.1" cy="300.8" r="1.45"/><circle cx="394.7" cy="310.2" r="1.45"/><circle cx="376.8" cy="296.9" r="1.45"/><circle cx="386.8" cy="303.5" r="1.45"/><circle cx="391.1" cy="295.1" r="1.45"/><circle cx="372.7" cy="287.3" r="1.45"/><circle cx="389.4" cy="302.6" r="1.45"/><circle cx="375.4" cy="288.9" r="1.45"/><circle cx="395.6" cy="310.4" r="1.45"/><circle cx="383.3" cy="299.4" r="1.45"/><circle cx="382.6" cy="295.2" r="1.45"/><circle cx="371.1" cy="294.2" r="1.45"/><circle cx="378.8" cy="291.1" r="1.45"/><circle cx="384.3" cy="292.4" r="1.45"/><circle cx="393.2" cy="309.4" r="1.45"/><circle cx="391.5" cy="305.3" r="1.45"/><circle cx="388.9" cy="302.8" r="1.45"/><circle cx="389.3" cy="304.1" r="1.45"/><circle cx="377.4" cy="294.4" r="1.45"/><circle cx="384.2" cy="294.5" r="1.45"/><circle cx="382.3" cy="304.4" r="1.45"/><circle cx="377.9" cy="294.6" r="1.45"/><circle cx="365.0" cy="329.0" r="1.45"/><circle cx="368.0" cy="333.0" r="1.45"/><circle cx="398.0" cy="316.0" r="1.45"/><circle cx="402.0" cy="318.0" r="1.45"/><circle cx="404.0" cy="315.0" r="1.45"/></g>
<g fill="#b45a54" fill-opacity="0.7"><circle cx="378.7" cy="293.5" r="1.45"/><circle cx="382.6" cy="312.5" r="1.45"/><circle cx="376.7" cy="318.8" r="1.45"/><circle cx="390.9" cy="330.0" r="1.45"/><circle cx="375.2" cy="310.4" r="1.45"/><circle cx="372.1" cy="300.0" r="1.45"/><circle cx="372.0" cy="317.8" r="1.45"/><circle cx="373.3" cy="314.0" r="1.45"/><circle cx="381.7" cy="315.5" r="1.45"/><circle cx="373.6" cy="277.2" r="1.45"/><circle cx="378.6" cy="303.0" r="1.45"/><circle cx="386.9" cy="308.1" r="1.45"/></g>
<circle cx="442.8" cy="255.9" r="2.6" fill="#177e98"/>
<circle cx="442.8" cy="265.2" r="2.6" fill="#b45a54"/>
<text x="449.2" y="258.6" font-size="7" fill="#333" text-anchor="start" textLength="38.5" lengthAdjust="spacingAndGlyphs">Non-tumour</text>
<text x="449.2" y="268" font-size="7" fill="#333" text-anchor="start" textLength="24.8" lengthAdjust="spacingAndGlyphs">Tumour</text>
<text x="4.9" y="393.8" font-size="10.2" fill="#111" text-anchor="start" font-weight="bold" textLength="6.2" lengthAdjust="spacingAndGlyphs">d</text>
<path d="M42.6,394.5 L42.6,512.3 L245,512.3" fill="none" stroke="#8a8a8a" stroke-width="0.6"/>
<path d="M38.8,394.70 L42.6,394.70" stroke="#8a8a8a" stroke-width="0.5"/>
<text x="35" y="396.79999999999995" font-size="6.0" fill="#555" text-anchor="end">1.00</text>
<path d="M38.8,433.90 L42.6,433.90" stroke="#8a8a8a" stroke-width="0.5"/>
<text x="35" y="436.0" font-size="6.0" fill="#555" text-anchor="end">0.95</text>
<path d="M38.8,473.10 L42.6,473.10" stroke="#8a8a8a" stroke-width="0.5"/>
<text x="35" y="475.19999999999993" font-size="6.0" fill="#555" text-anchor="end">0.90</text>
<path d="M38.8,512.30 L42.6,512.30" stroke="#8a8a8a" stroke-width="0.5"/>
<text x="35" y="514.4" font-size="6.0" fill="#555" text-anchor="end">0.85</text>
<path d="M42.60,512.3 L42.60,514.6" stroke="#8a8a8a" stroke-width="0.5"/>
<text x="42.6" y="523.9" font-size="6.0" fill="#555" text-anchor="middle">0</text>
<path d="M76.30,512.3 L76.30,514.6" stroke="#8a8a8a" stroke-width="0.5"/>
<text x="76.30000000000001" y="523.9" font-size="6.0" fill="#555" text-anchor="middle">10</text>
<path d="M110.00,512.3 L110.00,514.6" stroke="#8a8a8a" stroke-width="0.5"/>
<text x="110.0" y="523.9" font-size="6.0" fill="#555" text-anchor="middle">20</text>
<path d="M143.70,512.3 L143.70,514.6" stroke="#8a8a8a" stroke-width="0.5"/>
<text x="143.70000000000002" y="523.9" font-size="6.0" fill="#555" text-anchor="middle">30</text>
<path d="M177.40,512.3 L177.40,514.6" stroke="#8a8a8a" stroke-width="0.5"/>
<text x="177.4" y="523.9" font-size="6.0" fill="#555" text-anchor="middle">40</text>
<path d="M211.10,512.3 L211.10,514.6" stroke="#8a8a8a" stroke-width="0.5"/>
<text x="211.1" y="523.9" font-size="6.0" fill="#555" text-anchor="middle">50</text>
<path d="M244.80,512.3 L244.80,514.6" stroke="#8a8a8a" stroke-width="0.5"/>
<text x="244.8" y="523.9" font-size="6.0" fill="#555" text-anchor="middle">60</text>
<text transform="translate(17.5,477.3) rotate(-90)" font-size="6.8" fill="#333" textLength="48.6" lengthAdjust="spacingAndGlyphs">Model accuracy</text>
<text x="98.9" y="534.7" font-size="6.8" fill="#333" text-anchor="start" textLength="90.6" lengthAdjust="spacingAndGlyphs">Number of spectral features</text>
<circle cx="48.7" cy="496.8" r="1.68" fill="#5a5a5a"/>
<circle cx="52.5" cy="471.8" r="1.68" fill="#5a5a5a"/>
<circle cx="55.9" cy="473.6" r="1.68" fill="#5a5a5a"/>
<circle cx="59.2" cy="463.3" r="1.68" fill="#5a5a5a"/>
<circle cx="62.5" cy="465.1" r="1.68" fill="#5a5a5a"/>
<circle cx="65.9" cy="455.4" r="1.68" fill="#5a5a5a"/>
<circle cx="69.3" cy="437.3" r="1.68" fill="#5a5a5a"/>
<circle cx="72.7" cy="430.6" r="1.68" fill="#5a5a5a"/>
<circle cx="76.1" cy="425.6" r="1.68" fill="#5a5a5a"/>
<circle cx="79.5" cy="422.2" r="1.68" fill="#5a5a5a"/>
<circle cx="82.8" cy="427.6" r="1.68" fill="#5a5a5a"/>
<circle cx="86.2" cy="414.1" r="1.68" fill="#d0142c"/>
<circle cx="89.6" cy="417.7" r="1.68" fill="#5a5a5a"/>
<circle cx="93" cy="417.7" r="1.68" fill="#5a5a5a"/>
<circle cx="96.4" cy="415.9" r="1.68" fill="#5a5a5a"/>
<circle cx="99.7" cy="414.1" r="1.68" fill="#5a5a5a"/>
<circle cx="103.1" cy="414.1" r="1.68" fill="#5a5a5a"/>
<circle cx="106.5" cy="414.3" r="1.68" fill="#5a5a5a"/>
<circle cx="109.9" cy="412.5" r="1.68" fill="#5a5a5a"/>
<circle cx="113.3" cy="412.5" r="1.68" fill="#5a5a5a"/>
<circle cx="116.6" cy="414.1" r="1.68" fill="#5a5a5a"/>
<circle cx="120" cy="412.5" r="1.68" fill="#5a5a5a"/>
<circle cx="123.4" cy="417.5" r="1.68" fill="#5a5a5a"/>
<circle cx="126.8" cy="421.1" r="1.68" fill="#5a5a5a"/>
<circle cx="130.2" cy="407.6" r="1.68" fill="#5a5a5a"/>
<circle cx="133.6" cy="412.5" r="1.68" fill="#5a5a5a"/>
<circle cx="136.9" cy="411" r="1.68" fill="#5a5a5a"/>
<circle cx="140.5" cy="404.2" r="1.68" fill="#5a5a5a"/>
<circle cx="143.8" cy="407.6" r="1.68" fill="#5a5a5a"/>
<circle cx="147.2" cy="412.5" r="1.68" fill="#5a5a5a"/>
<circle cx="150.6" cy="412.5" r="1.68" fill="#5a5a5a"/>
<circle cx="154" cy="411" r="1.68" fill="#5a5a5a"/>
<circle cx="157.4" cy="411" r="1.68" fill="#5a5a5a"/>
<circle cx="160.7" cy="409.2" r="1.68" fill="#5a5a5a"/>
<circle cx="164.1" cy="411" r="1.68" fill="#5a5a5a"/>
<circle cx="167.5" cy="409.2" r="1.68" fill="#5a5a5a"/>
<circle cx="170.9" cy="409.2" r="1.68" fill="#5a5a5a"/>
<circle cx="174.3" cy="412.5" r="1.68" fill="#5a5a5a"/>
<circle cx="177.6" cy="409.2" r="1.68" fill="#5a5a5a"/>
<circle cx="181" cy="411" r="1.68" fill="#5a5a5a"/>
<circle cx="184.4" cy="411" r="1.68" fill="#5a5a5a"/>
<circle cx="187.8" cy="412.5" r="1.68" fill="#5a5a5a"/>
<circle cx="191.2" cy="411" r="1.68" fill="#5a5a5a"/>
<circle cx="194.6" cy="405.8" r="1.68" fill="#5a5a5a"/>
<circle cx="197.9" cy="407.6" r="1.68" fill="#5a5a5a"/>
<circle cx="201.3" cy="411" r="1.68" fill="#5a5a5a"/>
<circle cx="204.7" cy="409.2" r="1.68" fill="#5a5a5a"/>
<circle cx="208.1" cy="411" r="1.68" fill="#5a5a5a"/>
<circle cx="211.5" cy="412.5" r="1.68" fill="#5a5a5a"/>
<circle cx="214.8" cy="409.2" r="1.68" fill="#5a5a5a"/>
<circle cx="218.2" cy="409.2" r="1.68" fill="#5a5a5a"/>
<circle cx="221.6" cy="411" r="1.68" fill="#5a5a5a"/>
<circle cx="225" cy="409.2" r="1.68" fill="#5a5a5a"/>
<circle cx="228.4" cy="407.6" r="1.68" fill="#5a5a5a"/>
<circle cx="231.8" cy="407" r="1.68" fill="#5a5a5a"/>
<circle cx="235.1" cy="407" r="1.68" fill="#5a5a5a"/>
<text x="257.9" y="394.2" font-size="10.2" fill="#111" text-anchor="start" font-weight="bold" textLength="6.2" lengthAdjust="spacingAndGlyphs">e</text>
<path d="M282.5,393.5 L282.5,505.7 L454.5,505.7" fill="none" stroke="#8a8a8a" stroke-width="0.6"/>
<path d="M280.2,393.50 L282.5,393.50" stroke="#8a8a8a" stroke-width="0.5"/>
<text x="277.8" y="395.6" font-size="6.0" fill="#555" text-anchor="end">1.0</text>
<path d="M280.2,449.60 L282.5,449.60" stroke="#8a8a8a" stroke-width="0.5"/>
<text x="277.8" y="451.7" font-size="6.0" fill="#555" text-anchor="end">0.5</text>
<path d="M280.2,505.70 L282.5,505.70" stroke="#8a8a8a" stroke-width="0.5"/>
<text x="277.8" y="507.8" font-size="6.0" fill="#555" text-anchor="end">0</text>
<path d="M282.50,505.7 L282.50,508" stroke="#8a8a8a" stroke-width="0.5"/>
<text x="282.5" y="514.5" font-size="6.0" fill="#555" text-anchor="middle">0</text>
<path d="M325.50,505.7 L325.50,508" stroke="#8a8a8a" stroke-width="0.5"/>
<text x="325.5" y="514.5" font-size="6.0" fill="#555" text-anchor="middle">0.25</text>
<path d="M368.50,505.7 L368.50,508" stroke="#8a8a8a" stroke-width="0.5"/>
<text x="368.5" y="514.5" font-size="6.0" fill="#555" text-anchor="middle">0.50</text>
<path d="M411.50,505.7 L411.50,508" stroke="#8a8a8a" stroke-width="0.5"/>
<text x="411.5" y="514.5" font-size="6.0" fill="#555" text-anchor="middle">0.75</text>
<path d="M454.50,505.7 L454.50,508" stroke="#8a8a8a" stroke-width="0.5"/>
<text x="454.5" y="514.5" font-size="6.0" fill="#555" text-anchor="middle">1.00</text>
<path d="M282.5,505.7 L454.5,393.5" stroke="#777" stroke-width="0.6" stroke-dasharray="3.2,2.6"/>
<text transform="translate(262.8,477.4) rotate(-90)" font-size="6.5" fill="#333" textLength="55.3" lengthAdjust="spacingAndGlyphs">True positive rate</text>
<text x="339.8" y="524.8" font-size="6.8" fill="#333" text-anchor="start" textLength="56.5" lengthAdjust="spacingAndGlyphs">False positive rate</text>
<polyline points="282.5,505.7 283.5,505.7 283.5,412.4 290.9,412.4 292,404.5 317.4,404.5 317.4,400.9 334.7,400.9 334.7,396.9 428,396.9 428,393.5 454.5,393.5" fill="none" stroke="#a6d6e6" stroke-width="0.8"/>
<polyline points="282.5,505.7 282.5,490 283.5,490 283.5,470 284.5,470 284.5,458 285.5,458 285.5,442.5 286.6,442.5 286.6,425.3 288.8,425.3 288.8,413.8 290.9,413.8 290.9,405.2 293.8,405.2 293.8,401.6 298.1,401.6 298.1,399.5 303.8,399.5 303.8,397.3 309.6,397.3 309.6,395.2 318.2,395.2 318.2,393.5 329.6,393.5 329.6,393.5 454.5,393.5" fill="none" stroke="#e0a0a0" stroke-width="0.65"/>
<polyline points="282.5,505.7 282.5,484 283,484 283,477 284.5,477 284.5,458 285,458 285,441 285.9,441 285.9,429.6 286.9,429.6 286.9,423.9 288.3,423.9 288.3,416.7 289.2,416.7 289.2,411.7 290.2,411.7 290.2,405.9 291.6,405.9 291.6,402.3 293.1,402.3 293.1,399.5 295.2,399.5 295.2,397.3 297.4,397.3 297.4,397.3 308.8,397.3 308.8,395.2 310.3,395.2 310.3,393.5 312.1,393.5 312.1,393.5 454.5,393.5" fill="none" stroke="#56a4c6" stroke-width="0.75"/>
<path d="M359.5,479.2 L365.2,479.2" stroke="#e0a0a0" stroke-width="0.8"/>
<text x="369.8" y="481.3" font-size="6.6" fill="#444" text-anchor="start" textLength="63.1" lengthAdjust="spacingAndGlyphs">CV set (AUC = 0.97)</text>
<path d="M359.5,488.4 L365.2,488.4" stroke="#4e9dc2" stroke-width="0.8"/>
<text x="369.8" y="490.5" font-size="6.6" fill="#444" text-anchor="start" textLength="67.2" lengthAdjust="spacingAndGlyphs">Test set (AUC = 0.98)</text>
<path d="M359.5,498.59999999999997 L365.2,498.59999999999997" stroke="#a6d6e6" stroke-width="0.8"/>
<text x="369.8" y="500.7" font-size="6.6" fill="#444" text-anchor="start" textLength="79.9" lengthAdjust="spacingAndGlyphs">External set (AUC = 0.95)</text>
<text x="4.9" y="546.3" font-size="10.2" fill="#111" text-anchor="start" font-weight="bold" textLength="3.9" lengthAdjust="spacingAndGlyphs">f</text>
<path d="M49.2,551.4 L49.2,663.6 L220.5,663.6" fill="none" stroke="#8a8a8a" stroke-width="0.6"/>
<path d="M46.9,551.40 L49.2,551.40" stroke="#8a8a8a" stroke-width="0.5"/>
<text x="44.4" y="553.5" font-size="6.0" fill="#555" text-anchor="end">1.0</text>
<path d="M46.9,607.50 L49.2,607.50" stroke="#8a8a8a" stroke-width="0.5"/>
<text x="44.4" y="609.6" font-size="6.0" fill="#555" text-anchor="end">0.5</text>
<path d="M46.9,663.60 L49.2,663.60" stroke="#8a8a8a" stroke-width="0.5"/>
<text x="44.4" y="665.7" font-size="6.0" fill="#555" text-anchor="end">0</text>
<path d="M49.20,663.6 L49.20,665.9" stroke="#8a8a8a" stroke-width="0.5"/>
<text x="49.2" y="672.6" font-size="6.0" fill="#555" text-anchor="middle">0</text>
<path d="M92.03,663.6 L92.03,665.9" stroke="#8a8a8a" stroke-width="0.5"/>
<text x="92.025" y="672.6" font-size="6.0" fill="#555" text-anchor="middle">0.25</text>
<path d="M134.85,663.6 L134.85,665.9" stroke="#8a8a8a" stroke-width="0.5"/>
<text x="134.85000000000002" y="672.6" font-size="6.0" fill="#555" text-anchor="middle">0.50</text>
<path d="M177.68,663.6 L177.68,665.9" stroke="#8a8a8a" stroke-width="0.5"/>
<text x="177.675" y="672.6" font-size="6.0" fill="#555" text-anchor="middle">0.75</text>
<path d="M220.50,663.6 L220.50,665.9" stroke="#8a8a8a" stroke-width="0.5"/>
<text x="220.5" y="672.6" font-size="6.0" fill="#555" text-anchor="middle">1.00</text>
<path d="M49.2,663.6 L220.5,551.4" stroke="#777" stroke-width="0.6" stroke-dasharray="3.2,2.6"/>
<text transform="translate(31.2,634.5) rotate(-90)" font-size="6.8" fill="#333" textLength="55.5" lengthAdjust="spacingAndGlyphs">True positive rate</text>
<text x="107" y="682.6" font-size="6.8" fill="#333" text-anchor="start" textLength="56.8" lengthAdjust="spacingAndGlyphs">False positive rate</text>
<polyline points="49.2,663.6 51.26,663.6 51.26,637.79 56.91,637.79 56.91,614.23 76.61,614.23 76.61,587.64 89.46,587.64 89.46,582.82 134.85,582.82 134.85,576.64 162.26,576.64 162.26,560.38 174.25,560.38 174.25,555.33 199.94,555.33 199.94,551.4 220.5,551.4" fill="none" stroke="#f2b3c2" stroke-width="0.7"/>
<polyline points="49.2,663.6 52.63,663.6 52.63,657.99 54.34,657.99 54.34,650.14 59.48,650.14 59.48,641.16 62.9,641.16 62.9,633.31 73.18,633.31 73.18,629.94 78.32,629.94 78.32,623.21 86.89,623.21 86.89,616.48 97.16,616.48 97.16,605.26 107.44,605.26 107.44,600.77 119.43,600.77 119.43,596.28 131.42,596.28 131.42,591.23 143.42,591.23 143.42,587.3 151.98,587.3 151.98,577.77 160.55,577.77 160.55,573.84 169.11,573.84 169.11,568.23 180.59,568.23 180.59,551.4 220.5,551.4" fill="none" stroke="#b9dba2" stroke-width="0.7"/>
<polyline points="49.2,663.6 50.91,663.6 50.91,656.87 56.05,656.87 56.05,646.77 61.19,646.77 61.19,638.92 68.04,638.92 68.04,629.94 78.32,629.94 78.32,624.33 86.89,624.33 86.89,613.11 93.74,613.11 93.74,601.89 100.59,601.89 100.59,596.28 109.16,596.28 109.16,590.67 117.72,590.67 117.72,585.06 138.28,585.06 138.28,581.69 151.98,581.69 151.98,573.84 172.54,573.84 172.54,568.23 191.38,568.23 191.38,562.62 199.94,562.62 199.94,557.01 206.8,557.01 206.8,551.4 220.5,551.4" fill="none" stroke="#e8a0b0" stroke-width="0.7"/>
<polyline points="49.2,663.6 50.91,663.6 50.91,652.38 52.63,652.38 52.63,643.4 57.77,643.4 57.77,634.43 64.62,634.43 64.62,626.57 71.47,626.57 71.47,620.96 81.75,620.96 81.75,616.48 86.89,616.48 86.89,607.5 92.03,607.5 92.03,599.65 100.59,599.65 100.59,591.79 110.87,591.79 110.87,587.3 121.15,587.3 121.15,582.82 126.29,582.82 126.29,578.33 129.71,578.33 129.71,571.6 133.14,571.6 133.14,569.35 139.99,569.35 139.99,564.3 151.98,564.3 151.98,561.5 215.36,561.5 215.36,551.4 220.5,551.4" fill="none" stroke="#b4acd8" stroke-width="0.7"/>
<polyline points="49.2,663.6 50.91,663.6 50.91,657.99 54.34,657.99 54.34,650.14 57.77,650.14 57.77,641.16 62.9,641.16 62.9,632.18 66.33,632.18 66.33,624.33 74.9,624.33 74.9,620.96 83.46,620.96 83.46,618.72 90.31,618.72 90.31,607.5 95.45,607.5 95.45,598.52 100.59,598.52 100.59,594.04 110.87,594.04 110.87,589.55 121.15,589.55 121.15,585.06 148.55,585.06 148.55,581.69 155.41,581.69 155.41,573.84 182.81,573.84 182.81,569.35 186.24,569.35 186.24,560.38 208.51,560.38 208.51,551.4 220.5,551.4" fill="none" stroke="#9a88d0" stroke-width="0.7"/>
<polyline points="49.2,663.6 50.91,663.6 50.91,654.62 54.34,654.62 54.34,646.77 59.48,646.77 59.48,635.55 66.33,635.55 66.33,626.57 76.61,626.57 76.61,620.96 83.46,620.96 83.46,616.48 88.6,616.48 88.6,607.5 92.03,607.5 92.03,598.52 97.16,598.52 97.16,594.04 105.73,594.04 105.73,588.43 126.29,588.43 126.29,585.06 138.28,585.06 138.28,581.69 143.42,581.69 143.42,572.72 146.84,572.72 146.84,568.23 170.82,568.23 170.82,559.25 208.51,559.25 208.51,551.4 220.5,551.4" fill="none" stroke="#5ab2da" stroke-width="0.7"/>
<path d="M131.7,617.2 L137.8,617.2" stroke="#a8a4cc" stroke-width="0.8"/>
<text x="141.9" y="619.3" font-size="6.3" fill="#444" text-anchor="start" textLength="80" lengthAdjust="spacingAndGlyphs">Glio. – men. (AUC = 0.73)</text>
<path d="M131.7,625.2 L137.8,625.2" stroke="#e8a0b0" stroke-width="0.8"/>
<text x="141.9" y="627.28" font-size="6.3" fill="#444" text-anchor="start" textLength="74.8" lengthAdjust="spacingAndGlyphs">Glio. – pit. (AUC = 0.68)</text>
<path d="M131.7,633.2 L137.8,633.2" stroke="#b9dba2" stroke-width="0.8"/>
<text x="141.9" y="635.26" font-size="6.3" fill="#444" text-anchor="start" textLength="76.3" lengthAdjust="spacingAndGlyphs">Glio. – sch. (AUC = 0.67)</text>
<path d="M131.7,641.1 L137.8,641.1" stroke="#5ab2da" stroke-width="0.8"/>
<text x="141.9" y="643.24" font-size="6.3" fill="#444" text-anchor="start" textLength="73.2" lengthAdjust="spacingAndGlyphs">Men. – pit. (AUC = 0.71)</text>
<path d="M131.7,649.1 L137.8,649.1" stroke="#9a88d0" stroke-width="0.8"/>
<text x="141.9" y="651.22" font-size="6.3" fill="#444" text-anchor="start" textLength="77.3" lengthAdjust="spacingAndGlyphs">Men. – sch. (AUC = 0.69)</text>
<path d="M131.7,657.1 L137.8,657.1" stroke="#f2c0cc" stroke-width="0.8"/>
<text x="141.9" y="659.2" font-size="6.3" fill="#444" text-anchor="start" textLength="71.1" lengthAdjust="spacingAndGlyphs">Pit. – sch. (AUC = 0.76)</text>
<text x="243.2" y="546.4" font-size="10.2" fill="#111" text-anchor="start" font-weight="bold" textLength="5.9" lengthAdjust="spacingAndGlyphs">g</text>
<text x="251.4" y="548" font-size="5.8" fill="#444" text-anchor="start">(1)</text>
<text x="341" y="547.7" font-size="5.8" fill="#444" text-anchor="start">(2)</text>
<text x="423.6" y="547.7" font-size="5.8" fill="#444" text-anchor="start">(3)</text>
<path d="M300.2,550.3 L300.2,664.1" stroke="#c4c4c4" stroke-width="0.9"/>
<path d="M300.2,664.1 L333.8,664.1" stroke="#9a9a9a" stroke-width="0.5"/>
<path d="M300.20,664.1 L300.20,666.1" stroke="#9a9a9a" stroke-width="0.5"/>
<text x="300.8" y="673.6" font-size="6.0" fill="#555" text-anchor="middle">0</text>
<path d="M316.60,664.1 L316.60,666.1" stroke="#9a9a9a" stroke-width="0.5"/>
<text x="317.2" y="673.6" font-size="6.0" fill="#555" text-anchor="middle">0.5</text>
<path d="M333.00,664.1 L333.00,666.1" stroke="#9a9a9a" stroke-width="0.5"/>
<text x="333.6" y="673.6" font-size="6.0" fill="#555" text-anchor="middle">1.0</text>
<path d="M298.0,560.8 L300.2,560.8" stroke="#9a9a9a" stroke-width="0.5"/>
<path d="M298.0,582.2 L300.2,582.2" stroke="#9a9a9a" stroke-width="0.5"/>
<path d="M298.0,604.6 L300.2,604.6" stroke="#9a9a9a" stroke-width="0.5"/>
<path d="M298.0,625.8 L300.2,625.8" stroke="#9a9a9a" stroke-width="0.5"/>
<path d="M298.0,647.7 L300.2,647.7" stroke="#9a9a9a" stroke-width="0.5"/>
<text x="317.2" y="682.6" font-size="6.8" fill="#333" text-anchor="middle"><tspan>P</tspan> value</text>
<text x="294.8" y="563.0999999999999" font-size="6.9" fill="#333" text-anchor="end">(GCCCCG)<tspan font-size="4.9" dy="1.8">3</tspan></text>
<text x="294.8" y="584.5" font-size="6.9" fill="#333" text-anchor="end">(GT)<tspan font-size="4.9" dy="1.8">15</tspan></text>
<text x="294.8" y="606.9" font-size="6.9" fill="#333" text-anchor="end">(AT)<tspan font-size="4.9" dy="1.8">15</tspan></text>
<text x="294.8" y="628.0999999999999" font-size="6.9" fill="#333" text-anchor="end">DMG-PEG<tspan font-size="4.9" dy="1.8">2000</tspan></text>
<text x="294.8" y="650.0" font-size="6.9" fill="#333" text-anchor="end">(TAT)<tspan font-size="4.9" dy="1.8">6</tspan></text>
<g fill="#1a1a1a"><rect x="301.16" y="560.30" width="1" height="1"/><rect x="303.78" y="560.30" width="1" height="1"/><rect x="310.34" y="560.30" width="1" height="1"/><rect x="311.98" y="560.30" width="1" height="1"/><rect x="320.84" y="560.30" width="1" height="1"/><rect x="324.12" y="560.30" width="1" height="1"/><rect x="329.36" y="560.30" width="1" height="1"/><rect x="330.02" y="557.70" width="1" height="1"/></g>
<g fill="#1a1a1a"><rect x="300.72" y="581.70" width="1" height="1"/><rect x="300.98" y="579.10" width="1" height="1"/><rect x="301.92" y="584.30" width="1" height="1"/><rect x="302.36" y="581.70" width="1" height="1"/><rect x="303.12" y="579.10" width="1" height="1"/><rect x="304.05" y="581.70" width="1" height="1"/><rect x="304.54" y="584.30" width="1" height="1"/><rect x="304.79" y="579.10" width="1" height="1"/><rect x="305.08" y="576.50" width="1" height="1"/><rect x="305.23" y="586.90" width="1" height="1"/><rect x="305.33" y="573.90" width="1" height="1"/><rect x="308.14" y="581.70" width="1" height="1"/><rect x="308.19" y="579.10" width="1" height="1"/><rect x="309.42" y="584.30" width="1" height="1"/><rect x="309.91" y="581.70" width="1" height="1"/><rect x="310.72" y="579.10" width="1" height="1"/><rect x="311.14" y="584.30" width="1" height="1"/><rect x="312.63" y="581.70" width="1" height="1"/><rect x="312.67" y="579.10" width="1" height="1"/><rect x="313.06" y="584.30" width="1" height="1"/><rect x="313.54" y="576.50" width="1" height="1"/><rect x="315.27" y="581.70" width="1" height="1"/><rect x="315.53" y="579.10" width="1" height="1"/><rect x="315.63" y="584.30" width="1" height="1"/><rect x="315.96" y="576.50" width="1" height="1"/><rect x="315.97" y="586.90" width="1" height="1"/><rect x="320.20" y="581.70" width="1" height="1"/><rect x="321.84" y="581.70" width="1" height="1"/><rect x="322.00" y="579.10" width="1" height="1"/><rect x="322.93" y="584.30" width="1" height="1"/><rect x="323.01" y="576.50" width="1" height="1"/><rect x="328.28" y="581.70" width="1" height="1"/><rect x="330.64" y="581.70" width="1" height="1"/><rect x="331.61" y="579.10" width="1" height="1"/></g>
<g fill="#1a1a1a"><rect x="300.52" y="604.10" width="1" height="1"/><rect x="300.53" y="601.50" width="1" height="1"/><rect x="300.62" y="606.70" width="1" height="1"/><rect x="300.97" y="598.90" width="1" height="1"/><rect x="301.02" y="609.30" width="1" height="1"/><rect x="301.14" y="596.30" width="1" height="1"/><rect x="301.93" y="611.90" width="1" height="1"/><rect x="302.13" y="604.10" width="1" height="1"/><rect x="302.48" y="601.50" width="1" height="1"/><rect x="302.52" y="606.70" width="1" height="1"/><rect x="303.01" y="598.90" width="1" height="1"/><rect x="303.44" y="609.30" width="1" height="1"/><rect x="303.47" y="596.30" width="1" height="1"/><rect x="303.55" y="611.90" width="1" height="1"/><rect x="303.82" y="604.10" width="1" height="1"/><rect x="304.05" y="601.50" width="1" height="1"/><rect x="305.23" y="606.70" width="1" height="1"/><rect x="305.24" y="598.90" width="1" height="1"/><rect x="305.81" y="604.10" width="1" height="1"/><rect x="306.43" y="601.50" width="1" height="1"/><rect x="307.17" y="606.70" width="1" height="1"/><rect x="307.17" y="598.90" width="1" height="1"/><rect x="307.30" y="609.30" width="1" height="1"/><rect x="308.55" y="604.10" width="1" height="1"/><rect x="309.29" y="601.50" width="1" height="1"/><rect x="309.76" y="606.70" width="1" height="1"/><rect x="310.01" y="598.90" width="1" height="1"/><rect x="310.75" y="604.10" width="1" height="1"/><rect x="310.86" y="601.50" width="1" height="1"/><rect x="311.65" y="606.70" width="1" height="1"/><rect x="318.75" y="604.10" width="1" height="1"/><rect x="323.62" y="604.10" width="1" height="1"/><rect x="326.52" y="604.10" width="1" height="1"/><rect x="327.56" y="601.50" width="1" height="1"/><rect x="328.43" y="604.10" width="1" height="1"/><rect x="329.74" y="601.50" width="1" height="1"/><rect x="332.73" y="604.10" width="1" height="1"/></g>
<g fill="#1a1a1a"><rect x="300.50" y="625.30" width="1" height="1"/><rect x="300.50" y="622.70" width="1" height="1"/><rect x="300.50" y="627.90" width="1" height="1"/><rect x="300.50" y="620.10" width="1" height="1"/><rect x="300.66" y="630.50" width="1" height="1"/><rect x="300.66" y="617.50" width="1" height="1"/><rect x="300.66" y="633.10" width="1" height="1"/><rect x="302.33" y="625.30" width="1" height="1"/><rect x="302.35" y="622.70" width="1" height="1"/><rect x="302.67" y="627.90" width="1" height="1"/><rect x="305.82" y="625.30" width="1" height="1"/><rect x="305.96" y="622.70" width="1" height="1"/><rect x="326.74" y="625.30" width="1" height="1"/></g>
<g fill="#1a1a1a"><rect x="300.71" y="647.20" width="1" height="1"/><rect x="301.36" y="644.60" width="1" height="1"/><rect x="301.70" y="649.80" width="1" height="1"/><rect x="302.09" y="642.00" width="1" height="1"/><rect x="302.33" y="647.20" width="1" height="1"/><rect x="303.06" y="644.60" width="1" height="1"/><rect x="303.49" y="649.80" width="1" height="1"/><rect x="303.74" y="642.00" width="1" height="1"/><rect x="305.30" y="647.20" width="1" height="1"/><rect x="305.38" y="644.60" width="1" height="1"/><rect x="305.80" y="649.80" width="1" height="1"/><rect x="306.00" y="642.00" width="1" height="1"/><rect x="306.32" y="652.40" width="1" height="1"/><rect x="308.28" y="647.20" width="1" height="1"/><rect x="310.75" y="647.20" width="1" height="1"/><rect x="310.89" y="644.60" width="1" height="1"/><rect x="311.65" y="649.80" width="1" height="1"/><rect x="311.68" y="642.00" width="1" height="1"/><rect x="313.81" y="647.20" width="1" height="1"/><rect x="314.33" y="644.60" width="1" height="1"/><rect x="315.45" y="647.20" width="1" height="1"/><rect x="318.00" y="647.20" width="1" height="1"/><rect x="318.38" y="644.60" width="1" height="1"/><rect x="319.98" y="647.20" width="1" height="1"/><rect x="320.54" y="644.60" width="1" height="1"/><rect x="323.10" y="647.20" width="1" height="1"/><rect x="326.65" y="647.20" width="1" height="1"/><rect x="327.60" y="644.60" width="1" height="1"/><rect x="328.70" y="647.20" width="1" height="1"/><rect x="330.55" y="647.20" width="1" height="1"/><rect x="330.61" y="644.60" width="1" height="1"/><rect x="330.81" y="649.80" width="1" height="1"/><rect x="331.52" y="642.00" width="1" height="1"/><rect x="332.86" y="647.20" width="1" height="1"/><rect x="333.19" y="644.60" width="1" height="1"/></g>
<path d="M380.0,548.6 L380.0,663.1" stroke="#c4c4c4" stroke-width="0.9"/>
<path d="M380.0,663.1 L412.3,663.1" stroke="#9a9a9a" stroke-width="0.5"/>
<path d="M380.00,663.1 L380.00,665.1" stroke="#9a9a9a" stroke-width="0.5"/>
<text x="380.6" y="673.6" font-size="6.0" fill="#555" text-anchor="middle">0</text>
<path d="M395.75,663.1 L395.75,665.1" stroke="#9a9a9a" stroke-width="0.5"/>
<text x="396.35" y="673.6" font-size="6.0" fill="#555" text-anchor="middle">0.5</text>
<path d="M411.50,663.1 L411.50,665.1" stroke="#9a9a9a" stroke-width="0.5"/>
<text x="412.1" y="673.6" font-size="6.0" fill="#555" text-anchor="middle">1.0</text>
<path d="M377.8,558.6 L380.0,558.6" stroke="#9a9a9a" stroke-width="0.5"/>
<path d="M377.8,577.3 L380.0,577.3" stroke="#9a9a9a" stroke-width="0.5"/>
<path d="M377.8,595.4 L380.0,595.4" stroke="#9a9a9a" stroke-width="0.5"/>
<path d="M377.8,613.8 L380.0,613.8" stroke="#9a9a9a" stroke-width="0.5"/>
<path d="M377.8,632.4 L380.0,632.4" stroke="#9a9a9a" stroke-width="0.5"/>
<path d="M377.8,650.6 L380.0,650.6" stroke="#9a9a9a" stroke-width="0.5"/>
<text x="398.05" y="682.6" font-size="6.8" fill="#333" text-anchor="middle"><tspan>P</tspan> value</text>
<text x="374.9" y="556.2" font-size="6.8" fill="#333" text-anchor="end"><tspan font-style="italic">I</tspan><tspan font-size="4.7" dy="1.4">E11–</tspan></text>
<path d="M361.5,558.2 L375,558.2" stroke="#333" stroke-width="0.4"/>
<text x="374" y="564.4" font-size="6.8" fill="#333" text-anchor="end"><tspan font-style="italic">I</tspan><tspan font-size="4.7" dy="1.4">E11</tspan></text>
<text x="375.6" y="579.6" font-size="6.8" fill="#333" text-anchor="end">Δ(<tspan font-style="italic">λ</tspan><tspan font-size="4.7" dy="1.4">E11–</tspan><tspan dy="-1.4"> − </tspan><tspan font-style="italic">λ</tspan><tspan font-size="4.7" dy="1.4">E11</tspan><tspan dy="-1.4">)</tspan></text>
<text x="374.9" y="597.1999999999999" font-size="6.8" fill="#333" text-anchor="end"><tspan font-style="italic">I</tspan><tspan font-size="4.7" dy="1.4">E11–</tspan></text>
<text x="374.9" y="615.5999999999999" font-size="6.8" fill="#333" text-anchor="end"><tspan font-style="italic">λ</tspan><tspan font-size="4.7" dy="1.4">E11–</tspan></text>
<text x="374.9" y="634.1999999999999" font-size="6.8" fill="#333" text-anchor="end"><tspan font-style="italic">I</tspan><tspan font-size="4.7" dy="1.4">E11</tspan></text>
<text x="374.9" y="652.4" font-size="6.8" fill="#333" text-anchor="end"><tspan font-style="italic">λ</tspan><tspan font-size="4.7" dy="1.4">E11</tspan></text>
<g fill="#1a1a1a"><rect x="380.57" y="558.10" width="1" height="1"/><rect x="380.68" y="555.50" width="1" height="1"/><rect x="381.04" y="560.70" width="1" height="1"/><rect x="381.40" y="552.90" width="1" height="1"/><rect x="381.44" y="563.30" width="1" height="1"/><rect x="381.89" y="550.30" width="1" height="1"/><rect x="382.29" y="558.10" width="1" height="1"/><rect x="382.43" y="555.50" width="1" height="1"/><rect x="382.45" y="565.90" width="1" height="1"/><rect x="382.69" y="560.70" width="1" height="1"/><rect x="386.20" y="558.10" width="1" height="1"/><rect x="387.27" y="555.50" width="1" height="1"/><rect x="387.74" y="560.70" width="1" height="1"/><rect x="387.98" y="558.10" width="1" height="1"/><rect x="388.06" y="552.90" width="1" height="1"/><rect x="390.34" y="558.10" width="1" height="1"/><rect x="401.05" y="558.10" width="1" height="1"/><rect x="403.95" y="558.10" width="1" height="1"/><rect x="405.49" y="555.50" width="1" height="1"/><rect x="407.10" y="558.10" width="1" height="1"/><rect x="411.29" y="558.10" width="1" height="1"/><rect x="411.65" y="555.50" width="1" height="1"/></g>
<g fill="#1a1a1a"><rect x="380.46" y="576.80" width="1" height="1"/><rect x="381.56" y="574.20" width="1" height="1"/><rect x="383.85" y="576.80" width="1" height="1"/><rect x="384.16" y="574.20" width="1" height="1"/><rect x="384.28" y="579.40" width="1" height="1"/><rect x="384.47" y="571.60" width="1" height="1"/><rect x="385.10" y="582.00" width="1" height="1"/><rect x="385.42" y="576.80" width="1" height="1"/><rect x="385.45" y="569.00" width="1" height="1"/><rect x="386.86" y="574.20" width="1" height="1"/><rect x="387.18" y="576.80" width="1" height="1"/><rect x="388.05" y="579.40" width="1" height="1"/><rect x="388.53" y="574.20" width="1" height="1"/><rect x="389.51" y="576.80" width="1" height="1"/><rect x="389.71" y="579.40" width="1" height="1"/><rect x="389.82" y="571.60" width="1" height="1"/><rect x="390.09" y="574.20" width="1" height="1"/><rect x="390.15" y="582.00" width="1" height="1"/><rect x="390.29" y="569.00" width="1" height="1"/><rect x="391.07" y="576.80" width="1" height="1"/><rect x="391.21" y="584.60" width="1" height="1"/><rect x="391.28" y="579.40" width="1" height="1"/><rect x="391.39" y="571.60" width="1" height="1"/><rect x="392.60" y="574.20" width="1" height="1"/><rect x="393.70" y="576.80" width="1" height="1"/><rect x="399.83" y="576.80" width="1" height="1"/><rect x="411.80" y="576.80" width="1" height="1"/></g>
<g fill="#1a1a1a"><rect x="384.68" y="594.90" width="1" height="1"/><rect x="384.71" y="592.30" width="1" height="1"/><rect x="388.42" y="594.90" width="1" height="1"/><rect x="388.46" y="592.30" width="1" height="1"/><rect x="389.60" y="597.50" width="1" height="1"/><rect x="390.35" y="594.90" width="1" height="1"/><rect x="390.59" y="592.30" width="1" height="1"/><rect x="390.74" y="589.70" width="1" height="1"/><rect x="400.77" y="594.90" width="1" height="1"/><rect x="403.71" y="594.90" width="1" height="1"/><rect x="404.10" y="592.30" width="1" height="1"/><rect x="404.20" y="597.50" width="1" height="1"/><rect x="405.70" y="594.90" width="1" height="1"/><rect x="405.73" y="592.30" width="1" height="1"/><rect x="406.00" y="597.50" width="1" height="1"/><rect x="406.10" y="589.70" width="1" height="1"/><rect x="407.11" y="600.10" width="1" height="1"/><rect x="407.17" y="587.10" width="1" height="1"/><rect x="407.42" y="594.90" width="1" height="1"/><rect x="408.06" y="592.30" width="1" height="1"/><rect x="408.24" y="597.50" width="1" height="1"/><rect x="408.42" y="589.70" width="1" height="1"/></g>
<g fill="#1a1a1a"><rect x="380.65" y="613.30" width="1" height="1"/><rect x="380.75" y="610.70" width="1" height="1"/><rect x="380.83" y="615.90" width="1" height="1"/><rect x="380.98" y="608.10" width="1" height="1"/><rect x="381.98" y="618.50" width="1" height="1"/><rect x="382.32" y="613.30" width="1" height="1"/><rect x="382.47" y="610.70" width="1" height="1"/><rect x="382.59" y="615.90" width="1" height="1"/><rect x="382.74" y="608.10" width="1" height="1"/><rect x="383.06" y="605.50" width="1" height="1"/><rect x="383.15" y="621.10" width="1" height="1"/><rect x="384.30" y="613.30" width="1" height="1"/><rect x="385.09" y="610.70" width="1" height="1"/><rect x="385.60" y="615.90" width="1" height="1"/><rect x="385.86" y="613.30" width="1" height="1"/><rect x="386.16" y="608.10" width="1" height="1"/><rect x="386.24" y="618.50" width="1" height="1"/><rect x="387.62" y="613.30" width="1" height="1"/><rect x="388.01" y="610.70" width="1" height="1"/><rect x="388.16" y="615.90" width="1" height="1"/><rect x="388.25" y="608.10" width="1" height="1"/><rect x="388.32" y="618.50" width="1" height="1"/><rect x="388.49" y="605.50" width="1" height="1"/><rect x="388.69" y="621.10" width="1" height="1"/><rect x="389.38" y="613.30" width="1" height="1"/><rect x="390.06" y="610.70" width="1" height="1"/><rect x="390.13" y="615.90" width="1" height="1"/><rect x="411.80" y="613.30" width="1" height="1"/></g>
<g fill="#1a1a1a"><rect x="380.31" y="631.90" width="1" height="1"/><rect x="381.21" y="629.30" width="1" height="1"/><rect x="382.17" y="631.90" width="1" height="1"/><rect x="382.49" y="634.50" width="1" height="1"/><rect x="383.49" y="629.30" width="1" height="1"/><rect x="383.53" y="626.70" width="1" height="1"/><rect x="384.95" y="631.90" width="1" height="1"/><rect x="386.85" y="631.90" width="1" height="1"/><rect x="387.41" y="629.30" width="1" height="1"/><rect x="395.04" y="631.90" width="1" height="1"/><rect x="395.97" y="629.30" width="1" height="1"/><rect x="396.71" y="631.90" width="1" height="1"/><rect x="399.82" y="631.90" width="1" height="1"/><rect x="400.29" y="629.30" width="1" height="1"/><rect x="400.36" y="634.50" width="1" height="1"/><rect x="401.08" y="626.70" width="1" height="1"/><rect x="403.06" y="631.90" width="1" height="1"/><rect x="403.62" y="629.30" width="1" height="1"/><rect x="404.14" y="634.50" width="1" height="1"/><rect x="404.59" y="626.70" width="1" height="1"/><rect x="407.28" y="631.90" width="1" height="1"/><rect x="407.37" y="629.30" width="1" height="1"/><rect x="409.57" y="631.90" width="1" height="1"/></g>
<g fill="#1a1a1a"><rect x="380.31" y="650.10" width="1" height="1"/><rect x="380.98" y="647.50" width="1" height="1"/><rect x="382.51" y="650.10" width="1" height="1"/><rect x="383.85" y="647.50" width="1" height="1"/><rect x="383.86" y="652.70" width="1" height="1"/><rect x="384.05" y="644.90" width="1" height="1"/><rect x="384.13" y="650.10" width="1" height="1"/><rect x="385.93" y="650.10" width="1" height="1"/><rect x="386.33" y="647.50" width="1" height="1"/><rect x="386.40" y="652.70" width="1" height="1"/><rect x="398.27" y="650.10" width="1" height="1"/><rect x="399.61" y="647.50" width="1" height="1"/><rect x="400.64" y="650.10" width="1" height="1"/><rect x="401.97" y="647.50" width="1" height="1"/><rect x="402.03" y="652.70" width="1" height="1"/><rect x="402.85" y="650.10" width="1" height="1"/><rect x="405.74" y="650.10" width="1" height="1"/><rect x="405.96" y="647.50" width="1" height="1"/><rect x="410.09" y="650.10" width="1" height="1"/><rect x="410.44" y="647.50" width="1" height="1"/><rect x="411.19" y="652.70" width="1" height="1"/><rect x="411.37" y="644.90" width="1" height="1"/></g>
<path d="M447.7,547.7 L447.7,663.2" stroke="#c4c4c4" stroke-width="0.9"/>
<path d="M447.7,663.2 L479.8,663.2" stroke="#9a9a9a" stroke-width="0.5"/>
<path d="M447.70,663.2 L447.70,665.2" stroke="#9a9a9a" stroke-width="0.5"/>
<text x="448.3" y="673.6" font-size="6.0" fill="#555" text-anchor="middle">0</text>
<path d="M463.35,663.2 L463.35,665.2" stroke="#9a9a9a" stroke-width="0.5"/>
<text x="463.95" y="673.6" font-size="6.0" fill="#555" text-anchor="middle">0.5</text>
<path d="M479.00,663.2 L479.00,665.2" stroke="#9a9a9a" stroke-width="0.5"/>
<text x="479.6" y="673.6" font-size="6.0" fill="#555" text-anchor="middle">1.0</text>
<path d="M445.5,556.3 L447.7,556.3" stroke="#9a9a9a" stroke-width="0.5"/>
<path d="M445.5,569.8 L447.7,569.8" stroke="#9a9a9a" stroke-width="0.5"/>
<path d="M445.5,583.6 L447.7,583.6" stroke="#9a9a9a" stroke-width="0.5"/>
<path d="M445.5,597.4 L447.7,597.4" stroke="#9a9a9a" stroke-width="0.5"/>
<path d="M445.5,611.2 L447.7,611.2" stroke="#9a9a9a" stroke-width="0.5"/>
<path d="M445.5,624.8 L447.7,624.8" stroke="#9a9a9a" stroke-width="0.5"/>
<path d="M445.5,638.4 L447.7,638.4" stroke="#9a9a9a" stroke-width="0.5"/>
<path d="M445.5,653.3 L447.7,653.3" stroke="#9a9a9a" stroke-width="0.5"/>
<text x="465.34999999999997" y="682.6" font-size="6.8" fill="#333" text-anchor="middle"><tspan font-style="italic">P</tspan> value</text>
<text x="441.8" y="558.5" font-size="6.8" fill="#333" text-anchor="end">Br</text>
<text x="441.8" y="572.0" font-size="6.8" fill="#333" text-anchor="end">SO<tspan font-size="4.7" dy="1.4">3</tspan></text>
<text x="441.8" y="585.8000000000001" font-size="6.8" fill="#333" text-anchor="end">MeO</text>
<text x="441.8" y="599.6" font-size="6.8" fill="#333" text-anchor="end">NO<tspan font-size="4.7" dy="1.4">3</tspan></text>
<text x="441.8" y="613.4000000000001" font-size="6.8" fill="#333" text-anchor="end">NEt<tspan font-size="4.7" dy="1.4">3</tspan></text>
<text x="441.8" y="627.0" font-size="6.8" fill="#333" text-anchor="end">F<tspan font-size="4.7" dy="1.4">3</tspan></text>
<text x="441.8" y="640.6" font-size="6.8" fill="#333" text-anchor="end">CO<tspan font-size="4.7" dy="1.4">2</tspan><tspan dy="-1.4">H</tspan></text>
<text x="441.8" y="655.5" font-size="6.8" fill="#333" text-anchor="end">Cl<tspan font-size="4.7" dy="1.4">2</tspan></text>
<g fill="#1a1a1a"><rect x="448.76" y="555.80" width="1" height="1"/><rect x="449.63" y="553.20" width="1" height="1"/><rect x="449.79" y="558.40" width="1" height="1"/><rect x="450.00" y="550.60" width="1" height="1"/><rect x="450.60" y="555.80" width="1" height="1"/><rect x="450.99" y="561.00" width="1" height="1"/><rect x="451.08" y="548.00" width="1" height="1"/><rect x="451.11" y="563.60" width="1" height="1"/><rect x="451.73" y="553.20" width="1" height="1"/><rect x="451.89" y="558.40" width="1" height="1"/><rect x="454.14" y="555.80" width="1" height="1"/><rect x="454.16" y="553.20" width="1" height="1"/><rect x="459.22" y="555.80" width="1" height="1"/><rect x="460.17" y="553.20" width="1" height="1"/><rect x="462.28" y="555.80" width="1" height="1"/><rect x="471.58" y="555.80" width="1" height="1"/><rect x="473.62" y="555.80" width="1" height="1"/><rect x="475.64" y="555.80" width="1" height="1"/><rect x="477.59" y="555.80" width="1" height="1"/><rect x="477.94" y="553.20" width="1" height="1"/><rect x="478.79" y="558.40" width="1" height="1"/></g>
<g fill="#1a1a1a"><rect x="449.56" y="569.30" width="1" height="1"/><rect x="452.69" y="569.30" width="1" height="1"/><rect x="460.52" y="569.30" width="1" height="1"/><rect x="461.15" y="566.70" width="1" height="1"/><rect x="466.15" y="569.30" width="1" height="1"/></g>
<g fill="#1a1a1a"><rect x="448.00" y="583.10" width="1" height="1"/><rect x="448.00" y="580.50" width="1" height="1"/><rect x="448.31" y="585.70" width="1" height="1"/><rect x="448.63" y="577.90" width="1" height="1"/><rect x="448.94" y="588.30" width="1" height="1"/><rect x="449.56" y="583.10" width="1" height="1"/><rect x="451.76" y="583.10" width="1" height="1"/><rect x="454.89" y="583.10" width="1" height="1"/></g>
<g fill="#1a1a1a"><rect x="449.21" y="596.90" width="1" height="1"/><rect x="449.92" y="594.30" width="1" height="1"/><rect x="450.09" y="599.50" width="1" height="1"/><rect x="450.29" y="591.70" width="1" height="1"/><rect x="452.76" y="596.90" width="1" height="1"/><rect x="455.74" y="596.90" width="1" height="1"/><rect x="468.26" y="596.90" width="1" height="1"/><rect x="470.50" y="596.90" width="1" height="1"/><rect x="470.54" y="594.30" width="1" height="1"/><rect x="470.99" y="599.50" width="1" height="1"/><rect x="472.59" y="596.90" width="1" height="1"/><rect x="472.72" y="594.30" width="1" height="1"/><rect x="473.41" y="599.50" width="1" height="1"/><rect x="473.46" y="591.70" width="1" height="1"/><rect x="474.34" y="596.90" width="1" height="1"/><rect x="474.85" y="594.30" width="1" height="1"/><rect x="476.09" y="596.90" width="1" height="1"/><rect x="476.30" y="599.50" width="1" height="1"/></g>
<g fill="#1a1a1a"><rect x="448.41" y="610.70" width="1" height="1"/><rect x="449.03" y="608.10" width="1" height="1"/><rect x="449.86" y="613.30" width="1" height="1"/><rect x="453.53" y="610.70" width="1" height="1"/><rect x="455.11" y="610.70" width="1" height="1"/><rect x="456.35" y="608.10" width="1" height="1"/><rect x="458.17" y="610.70" width="1" height="1"/><rect x="458.86" y="608.10" width="1" height="1"/><rect x="459.04" y="613.30" width="1" height="1"/><rect x="460.05" y="610.70" width="1" height="1"/><rect x="460.83" y="608.10" width="1" height="1"/><rect x="461.57" y="613.30" width="1" height="1"/><rect x="463.37" y="610.70" width="1" height="1"/><rect x="464.22" y="608.10" width="1" height="1"/><rect x="464.64" y="613.30" width="1" height="1"/><rect x="465.81" y="610.70" width="1" height="1"/><rect x="467.57" y="610.70" width="1" height="1"/><rect x="467.95" y="608.10" width="1" height="1"/><rect x="468.99" y="613.30" width="1" height="1"/><rect x="469.93" y="610.70" width="1" height="1"/><rect x="471.38" y="608.10" width="1" height="1"/><rect x="471.56" y="610.70" width="1" height="1"/><rect x="472.00" y="613.30" width="1" height="1"/><rect x="473.01" y="608.10" width="1" height="1"/><rect x="473.68" y="610.70" width="1" height="1"/><rect x="473.82" y="613.30" width="1" height="1"/></g>
<g fill="#1a1a1a"><rect x="448.86" y="624.30" width="1" height="1"/><rect x="449.79" y="621.70" width="1" height="1"/><rect x="449.92" y="626.90" width="1" height="1"/><rect x="450.88" y="624.30" width="1" height="1"/><rect x="451.59" y="621.70" width="1" height="1"/><rect x="452.14" y="626.90" width="1" height="1"/><rect x="453.42" y="624.30" width="1" height="1"/><rect x="453.99" y="621.70" width="1" height="1"/><rect x="454.23" y="626.90" width="1" height="1"/><rect x="454.87" y="619.10" width="1" height="1"/><rect x="455.33" y="624.30" width="1" height="1"/><rect x="457.77" y="624.30" width="1" height="1"/><rect x="458.16" y="621.70" width="1" height="1"/><rect x="459.40" y="624.30" width="1" height="1"/><rect x="460.76" y="621.70" width="1" height="1"/><rect x="466.75" y="624.30" width="1" height="1"/><rect x="467.95" y="621.70" width="1" height="1"/><rect x="468.22" y="626.90" width="1" height="1"/><rect x="478.43" y="624.30" width="1" height="1"/><rect x="479.23" y="621.70" width="1" height="1"/><rect x="479.29" y="626.90" width="1" height="1"/></g>
<g fill="#1a1a1a"><rect x="448.46" y="637.90" width="1" height="1"/><rect x="449.26" y="635.30" width="1" height="1"/><rect x="449.41" y="640.50" width="1" height="1"/><rect x="449.51" y="632.70" width="1" height="1"/><rect x="450.06" y="637.90" width="1" height="1"/><rect x="450.75" y="643.10" width="1" height="1"/><rect x="451.89" y="637.90" width="1" height="1"/><rect x="453.73" y="637.90" width="1" height="1"/><rect x="454.06" y="635.30" width="1" height="1"/><rect x="454.58" y="640.50" width="1" height="1"/><rect x="454.69" y="632.70" width="1" height="1"/><rect x="455.91" y="637.90" width="1" height="1"/><rect x="456.62" y="635.30" width="1" height="1"/><rect x="456.94" y="640.50" width="1" height="1"/><rect x="458.21" y="637.90" width="1" height="1"/><rect x="458.47" y="635.30" width="1" height="1"/><rect x="458.74" y="640.50" width="1" height="1"/><rect x="459.42" y="632.70" width="1" height="1"/><rect x="464.51" y="637.90" width="1" height="1"/><rect x="469.08" y="637.90" width="1" height="1"/></g>
<g fill="#1a1a1a"><rect x="449.75" y="652.80" width="1" height="1"/><rect x="452.20" y="652.80" width="1" height="1"/><rect x="457.85" y="652.80" width="1" height="1"/><rect x="459.71" y="652.80" width="1" height="1"/><rect x="461.51" y="652.80" width="1" height="1"/><rect x="463.32" y="652.80" width="1" height="1"/><rect x="466.01" y="652.80" width="1" height="1"/><rect x="466.79" y="650.20" width="1" height="1"/><rect x="469.83" y="652.80" width="1" height="1"/><rect x="471.24" y="650.20" width="1" height="1"/><rect x="475.50" y="652.80" width="1" height="1"/><rect x="477.38" y="652.80" width="1" height="1"/></g>
</svg></body></html>
